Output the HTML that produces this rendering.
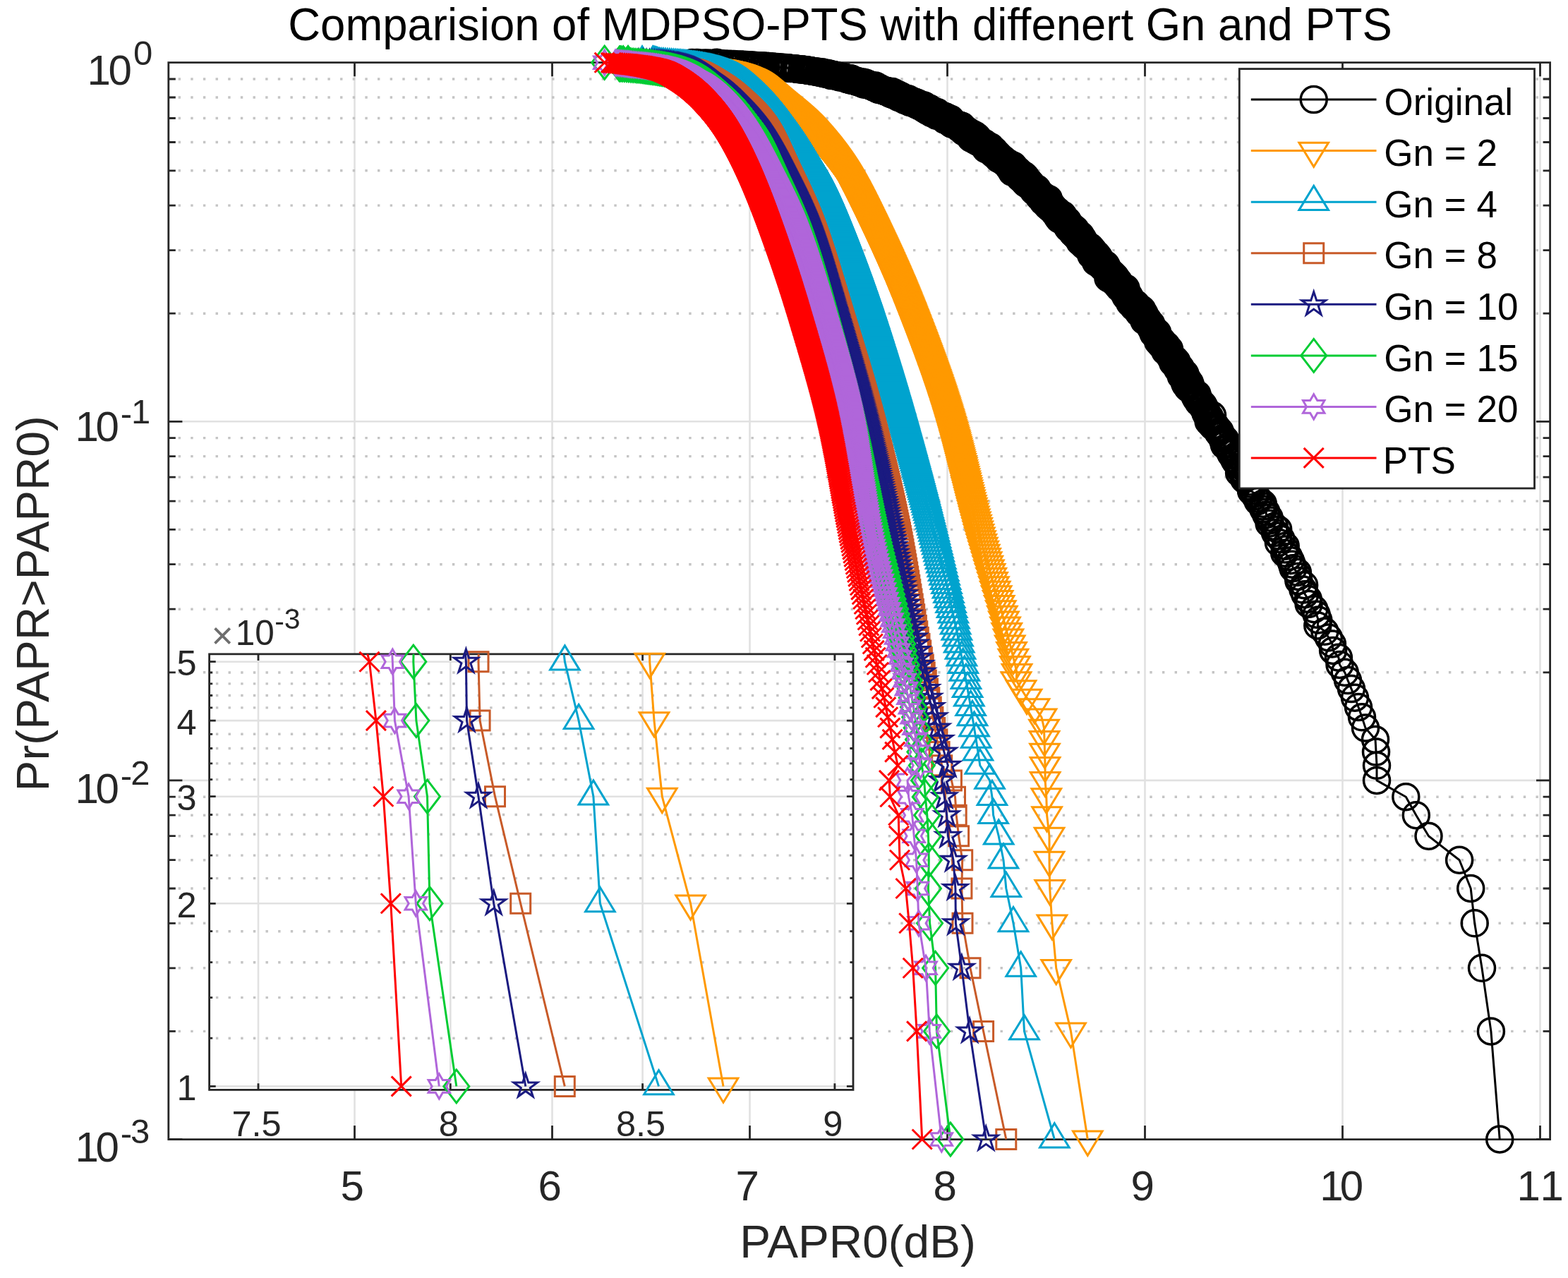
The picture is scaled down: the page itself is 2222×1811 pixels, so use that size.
<!DOCTYPE html><html><head><meta charset="utf-8"><title>Comparision of MDPSO-PTS with diffenert Gn and PTS</title>
<style>html,body{margin:0;padding:0;background:#fff;}svg{display:block;}text{font-family:"Liberation Sans",Arial,sans-serif;}</style></head><body>
<svg xmlns="http://www.w3.org/2000/svg" xmlns:xlink="http://www.w3.org/1999/xlink" width="2222" height="1811" viewBox="0 0 2222 1811">
<rect width="2222" height="1811" fill="#fff"/>
<defs>
<g id="m_black"><circle r="18.5" fill="none" stroke="#000000" stroke-width="3.5"/></g><marker id="k_m_black" markerUnits="userSpaceOnUse" markerWidth="60" markerHeight="60" refX="0" refY="0" overflow="visible" orient="0"><circle r="18.5" fill="none" stroke="#000000" stroke-width="3.5"/></marker>
<g id="m_orange"><path d="M-20.8,-11.4L20.8,-11.4L0,22.8Z" fill="none" stroke="#FF9900" stroke-width="3.0" stroke-linejoin="miter"/></g><marker id="k_m_orange" markerUnits="userSpaceOnUse" markerWidth="60" markerHeight="60" refX="0" refY="0" overflow="visible" orient="0"><path d="M-20.8,-11.4L20.8,-11.4L0,22.8Z" fill="none" stroke="#FF9900" stroke-width="3.0" stroke-linejoin="miter"/></marker>
<g id="m_cyan"><path d="M0,-22.8L20.8,11.4L-20.8,11.4Z" fill="none" stroke="#00A3CE" stroke-width="3.0" stroke-linejoin="miter"/></g><marker id="k_m_cyan" markerUnits="userSpaceOnUse" markerWidth="60" markerHeight="60" refX="0" refY="0" overflow="visible" orient="0"><path d="M0,-22.8L20.8,11.4L-20.8,11.4Z" fill="none" stroke="#00A3CE" stroke-width="3.0" stroke-linejoin="miter"/></marker>
<g id="m_brown"><path d="M-14,-14H14V14H-14Z" fill="none" stroke="#C85A28" stroke-width="3.0" stroke-linejoin="miter"/></g><marker id="k_m_brown" markerUnits="userSpaceOnUse" markerWidth="60" markerHeight="60" refX="0" refY="0" overflow="visible" orient="0"><path d="M-14,-14H14V14H-14Z" fill="none" stroke="#C85A28" stroke-width="3.0" stroke-linejoin="miter"/></marker>
<g id="m_navy"><path d="M0.00,-17.80L4.00,-5.50L16.93,-5.50L6.47,2.10L10.46,14.40L0.00,6.80L-10.46,14.40L-6.47,2.10L-16.93,-5.50L-4.00,-5.50Z" fill="none" stroke="#1A1A80" stroke-width="3.0" stroke-linejoin="miter"/></g><marker id="k_m_navy" markerUnits="userSpaceOnUse" markerWidth="60" markerHeight="60" refX="0" refY="0" overflow="visible" orient="0"><path d="M0.00,-17.80L4.00,-5.50L16.93,-5.50L6.47,2.10L10.46,14.40L0.00,6.80L-10.46,14.40L-6.47,2.10L-16.93,-5.50L-4.00,-5.50Z" fill="none" stroke="#1A1A80" stroke-width="3.0" stroke-linejoin="miter"/></marker>
<g id="m_green"><path d="M0,-23.5L18,0L0,23.5L-18,0Z" fill="none" stroke="#00CC33" stroke-width="3.0" stroke-linejoin="miter"/></g><marker id="k_m_green" markerUnits="userSpaceOnUse" markerWidth="60" markerHeight="60" refX="0" refY="0" overflow="visible" orient="0"><path d="M0,-23.5L18,0L0,23.5L-18,0Z" fill="none" stroke="#00CC33" stroke-width="3.0" stroke-linejoin="miter"/></marker>
<g id="m_purple"><path d="M0.00,-17.60L5.08,-8.80L15.24,-8.80L10.16,0.00L15.24,8.80L5.08,8.80L0.00,17.60L-5.08,8.80L-15.24,8.80L-10.16,0.00L-15.24,-8.80L-5.08,-8.80Z" fill="none" stroke="#B066DA" stroke-width="3.0" stroke-linejoin="miter"/></g><marker id="k_m_purple" markerUnits="userSpaceOnUse" markerWidth="60" markerHeight="60" refX="0" refY="0" overflow="visible" orient="0"><path d="M0.00,-17.60L5.08,-8.80L15.24,-8.80L10.16,0.00L15.24,8.80L5.08,8.80L0.00,17.60L-5.08,8.80L-15.24,8.80L-10.16,0.00L-15.24,-8.80L-5.08,-8.80Z" fill="none" stroke="#B066DA" stroke-width="3.0" stroke-linejoin="miter"/></marker>
<g id="m_red"><path d="M-14,-14L14,14M-14,14L14,-14" fill="none" stroke="#FF0000" stroke-width="3.0" stroke-linejoin="miter"/></g><marker id="k_m_red" markerUnits="userSpaceOnUse" markerWidth="60" markerHeight="60" refX="0" refY="0" overflow="visible" orient="0"><path d="M-14,-14L14,14M-14,14L14,-14" fill="none" stroke="#FF0000" stroke-width="3.0" stroke-linejoin="miter"/></marker>
<clipPath id="clipMain"><rect x="238.8" y="88.6" width="1957.8" height="1526.0"/></clipPath>
<clipPath id="clipIn"><rect x="296.6" y="926.8" width="912.4" height="617.5"/></clipPath>
</defs>
<path d="M502.5,88.6V1614.6M782.5,88.6V1614.6M1062.5,88.6V1614.6M1342.5,88.6V1614.6M1622.5,88.6V1614.6M1902.5,88.6V1614.6M2182.5,88.6V1614.6M238.8,597.3H2196.6M238.8,1105.9H2196.6" stroke="#e1e1e1" stroke-width="2.6" fill="none"/>
<path d="M238.8,444.2H2196.6M238.8,354.6H2196.6M238.8,291.1H2196.6M238.8,241.8H2196.6M238.8,201.5H2196.6M238.8,167.5H2196.6M238.8,138H2196.6M238.8,112H2196.6M238.8,952.8H2196.6M238.8,863.2H2196.6M238.8,799.7H2196.6M238.8,750.4H2196.6M238.8,710.1H2196.6M238.8,676.1H2196.6M238.8,646.6H2196.6M238.8,620.6H2196.6M238.8,1461.4H2196.6M238.8,1371.8H2196.6M238.8,1308.3H2196.6M238.8,1259H2196.6M238.8,1218.7H2196.6M238.8,1184.7H2196.6M238.8,1155.2H2196.6M238.8,1129.2H2196.6" stroke="#c4c4c4" stroke-width="3.4" fill="none" stroke-dasharray="3.4 14.25" stroke-dashoffset="-13.8"/>
<path d="M238.8,88.6H2196.6 V1614.6 H238.8 ZM502.5,1614.6v-19.6M502.5,88.6v19.6M782.5,1614.6v-19.6M782.5,88.6v19.6M1062.5,1614.6v-19.6M1062.5,88.6v19.6M1342.5,1614.6v-19.6M1342.5,88.6v19.6M1622.5,1614.6v-19.6M1622.5,88.6v19.6M1902.5,1614.6v-19.6M1902.5,88.6v19.6M2182.5,1614.6v-19.6M2182.5,88.6v19.6M238.8,88.7h19.6M2196.6,88.7h-19.6M238.8,597.3h19.6M2196.6,597.3h-19.6M238.8,1105.9h19.6M2196.6,1105.9h-19.6M238.8,1614.5h19.6M2196.6,1614.5h-19.6M238.8,444.2h10M2196.6,444.2h-10M238.8,354.6h10M2196.6,354.6h-10M238.8,291.1h10M2196.6,291.1h-10M238.8,241.8h10M2196.6,241.8h-10M238.8,201.5h10M2196.6,201.5h-10M238.8,167.5h10M2196.6,167.5h-10M238.8,138h10M2196.6,138h-10M238.8,112h10M2196.6,112h-10M238.8,952.8h10M2196.6,952.8h-10M238.8,863.2h10M2196.6,863.2h-10M238.8,799.7h10M2196.6,799.7h-10M238.8,750.4h10M2196.6,750.4h-10M238.8,710.1h10M2196.6,710.1h-10M238.8,676.1h10M2196.6,676.1h-10M238.8,646.6h10M2196.6,646.6h-10M238.8,620.6h10M2196.6,620.6h-10M238.8,1461.4h10M2196.6,1461.4h-10M238.8,1371.8h10M2196.6,1371.8h-10M238.8,1308.3h10M2196.6,1308.3h-10M238.8,1259h10M2196.6,1259h-10M238.8,1218.7h10M2196.6,1218.7h-10M238.8,1184.7h10M2196.6,1184.7h-10M238.8,1155.2h10M2196.6,1155.2h-10M238.8,1129.2h10M2196.6,1129.2h-10" stroke="#262626" stroke-width="2.8" fill="none"/>
<path d="M2125.2 1614.5 2112.9 1461.4 2100 1371.8 2089.7 1308.3 2084.2 1259 2068.1 1218.7 2024.5 1184.7 2006.8 1155.2 1992.3 1129.2 1951 1105.9 1951 1084.8 1950 1065.6 1949 1047.9 1935 1031.6 1930 1016.3 1925 1002.1 1920 988.7 1915 976.1 1910 964.1 1905.7 952.8 1898.5 942 1896.9 931.7 1889.1 921.9 1887.9 912.5 1882.8 903.5 1877.4 894.8 1867.3 886.5 1868.2 878.5 1865.6 870.7 1862.3 863.2 1854.6 856 1853.8 849 1849.3 842.2 1846.5 835.6 1848.1 829.2 1840.4 823 1839.5 816.9 1838.9 811 1832.5 805.3 1830.9 799.7 1828.8 794.2 1826.1 788.9 1820.2 783.7 1821 778.6 1821.7 773.7 1811.9 768.8 1815.5 764.1 1811.2 759.4 1807 754.9 1811.2 750.4 1805.8 746 1798.5 741.7 1799.5 737.5 1798.5 733.4 1794.3 729.4 1794.3 725.4 1790.3 721.5 1790 717.6 1789.8 713.8 1782.5 710.1 1782.6 706.5 1778.9 702.9 1778.4 699.4 1773.1 695.9 1772.7 692.5 1771.7 689.1 1772.5 685.8 1771.3 682.5 1763.2 679.3 1762.7 676.1 1764.5 673 1756.1 669.9 1758.1 666.8 1757.3 663.8 1758.9 660.8 1755.8 657.9 1751.5 655 1749.8 652.2 1748.4 649.4 1751.2 646.6 1744.7 643.8 1743.4 641.1 1743.4 638.5 1740.6 635.8 1738.9 633.2 1735 630.6 1736.3 628.1 1733.7 625.5 1736.2 623 1733.4 620.6 1730.3 618.1 1730.5 615.7 1726.6 613.3 1728.6 611 1724.6 608.6 1724.6 606.3 1718.6 604 1721.3 601.8 1714.8 599.5 1712.6 597.3 1715.6 595.1 1712.8 592.9 1714.1 590.8 1718 588.6 1709.1 586.5 1708.3 584.4 1709.1 582.4 1708.6 580.3 1705.6 578.3 1704.3 576.2 1705.4 574.2 1703.7 572.3 1698.6 570.3 1699.8 568.4 1698.9 566.4 1694.9 564.5 1697.1 562.6 1693.1 560.7 1696.5 558.9 1693.4 557 1692 555.2 1689.2 553.4 1689.2 551.6 1683.4 549.8 1684.4 548 1687.1 546.3 1679.7 544.5 1686.1 542.8 1678.5 541.1 1683.7 539.3 1678.6 537.7 1681.6 536 1678.9 534.3 1673.7 532.7 1679.6 531 1679 529.4 1674.2 527.8 1672.7 526.2 1671.9 524.6 1668.9 523 1673 521.4 1667.9 519.8 1668.1 518.3 1665.3 516.8 1664.7 515.2 1662.1 513.7 1667.4 512.2 1662.9 510.7 1664.8 509.2 1661.4 507.7 1658.7 506.3 1658.6 504.8 1657.1 503.4 1657.6 501.9 1655.7 500.5 1654.9 499.1 1651.3 497.7 1651.8 496.3 1657 494.9 1650.2 493.5 1648.4 492.1 1650.9 490.7 1652.7 489.4 1644.6 488 1646.8 486.7 1644.9 485.4 1641.1 484 1646.5 482.7 1643.7 481.4 1643 480.1 1640.1 478.8 1642.2 477.5 1638.9 476.2 1639 475 1635.7 473.7 1634.5 472.4 1640.1 471.2 1634.6 469.9 1635.7 468.7 1634.1 467.5 1632.2 466.2 1631.2 465 1633.2 463.8 1630 462.6 1629.5 461.4 1629.1 460.2 1631.2 459 1629.1 457.9 1627.5 456.7 1624.3 455.5 1621.4 454.4 1626.4 453.2 1625.7 452.1 1622.1 450.9 1623 449.8 1622.8 448.7 1622.1 447.5 1621.5 446.4 1617.2 445.3 1621.4 444.2 1613.7 443.1 1618.1 442 1616.4 440.9 1616.6 439.8 1618.3 438.7 1616.5 437.7 1609.1 436.6 1607 435.5 1612.4 434.5 1607.1 433.4 1608.8 432.4 1610.1 431.3 1603.1 430.3 1601.2 429.3 1606.3 428.2 1605 427.2 1603.5 426.2 1603.4 425.2 1600.4 424.2 1598 423.1 1600.6 422.1 1597.8 421.1 1595.4 420.2 1600 419.2 1597.8 418.2 1598.2 417.2 1593.9 416.2 1594 415.3 1592.4 414.3 1591.9 413.3 1593.8 412.4 1590.6 411.4 1592.7 410.5 1591.9 409.5 1595.4 408.6 1586.1 407.6 1591 406.7 1587.9 405.8 1587.3 404.8 1583 403.9 1584.7 403 1587 402.1 1584.2 401.2 1583.8 400.3 1582.2 399.4 1585 398.5 1581.4 397.6 1575.2 396.7 1578.2 395.8 1574.3 394.9 1570.4 394 1576.5 393.1 1580.4 392.3 1576.5 391.4 1572.7 390.5 1572.5 389.7 1577 388.8 1573.9 388 1572.9 387.1 1571.9 386.2 1571.4 385.4 1572.6 384.6 1571.3 383.7 1569.8 382.9 1565.9 382 1569.1 381.2 1565.4 380.4 1569.1 379.6 1562.5 378.7 1564.7 377.9 1564.3 377.1 1560.3 376.3 1567.3 375.5 1565.9 374.7 1560.4 373.9 1562.8 373.1 1561.1 372.3 1553 371.5 1559.5 370.7 1558 369.9 1557.7 369.1 1554.1 368.3 1555.5 367.5 1555 366.7 1557.8 366 1555 365.2 1553.5 364.4 1556.6 363.7 1550.7 362.9 1550.5 362.1 1546.3 361.4 1554.1 360.6 1551.9 359.9 1551.1 359.1 1549.9 358.3 1547.8 357.6 1547.4 356.9 1545.6 356.1 1545.1 355.4 1545.1 354.6 1548.1 353.9 1545.1 353.2 1542.9 352.4 1540.9 351.7 1540.2 351 1545.1 350.3 1541.8 349.5 1540 348.8 1538.4 348.1 1535.8 347.4 1537.8 346.7 1539.5 346 1535.7 345.3 1535.5 344.6 1534.9 343.9 1535.1 343.2 1530.3 342.5 1533 341.8 1530.9 341.1 1534.6 340.4 1529.9 339.7 1532.6 339 1534.4 338.3 1529.2 337.6 1527.9 337 1529.3 336.3 1528.2 335.6 1525.1 334.9 1528.1 334.3 1531.4 333.6 1525.2 332.9 1524.7 332.2 1522 331.6 1524.8 330.9 1520.3 330.3 1520.1 329.6 1525.5 328.9 1519.4 328.3 1523.8 327.6 1524.3 327 1520.6 326.3 1520.8 325.7 1523.7 325 1517.7 324.4 1516.2 323.8 1513.7 323.1 1516.6 322.5 1519.7 321.9 1517.8 321.2 1512.5 320.6 1512.1 320 1512.5 319.3 1513.9 318.7 1512.1 318.1 1512.6 317.5 1512.2 316.8 1510.2 316.2 1510.3 315.6 1510.4 315 1509.1 314.4 1510 313.8 1512.9 313.1 1509.1 312.5 1507.3 311.9 1502.4 311.3 1507 310.7 1500.6 310.1 1501.4 309.5 1506.5 308.9 1505.6 308.3 1503 307.7 1498.5 307.1 1501.3 306.5 1500 305.9 1502.8 305.3 1506.3 304.8 1500.7 304.2 1497.7 303.6 1496.1 303 1498.4 302.4 1497.6 301.8 1494.6 301.3 1497.3 300.7 1493.6 300.1 1498.7 299.5 1498.1 299 1497.6 298.4 1493.2 297.8 1495.1 297.3 1493 296.7 1491.8 296.1 1491.4 295.6 1488.5 295 1487.6 294.4 1492.7 293.9 1489.7 293.3 1490.2 292.8 1491.7 292.2 1484.3 291.6 1486.2 291.1 1488.1 290.5 1488.1 290 1485.7 289.4 1488.7 288.9 1486.1 288.3 1482.1 287.8 1482.3 287.3 1486.1 286.7 1484.7 286.2 1478.3 285.6 1485.9 285.1 1483.6 284.6 1484.9 284 1480.1 283.5 1479.8 283 1477.3 282.4 1485.9 281.9 1478.6 281.4 1482.5 280.8 1476.4 280.3 1478 279.8 1472.9 279.3 1475.6 278.7 1478.5 278.2 1472.5 277.7 1477.8 277.2 1475.4 276.7 1471.5 276.1 1472.3 275.6 1472 275.1 1472.5 274.6 1470.8 274.1 1469.6 273.6 1470.4 273.1 1468.1 272.6 1466.9 272.1 1469.5 271.6 1471.4 271 1464.9 270.5 1468.2 270 1466.1 269.5 1464.8 269 1468.9 268.5 1464.9 268 1469.5 267.5 1463.3 267 1465.7 266.6 1463.7 266.1 1461.9 265.6 1464.8 265.1 1462.4 264.6 1463.8 264.1 1461.7 263.6 1458.6 263.1 1460.6 262.6 1460.5 262.2 1462.3 261.7 1457.2 261.2 1458.8 260.7 1454.1 260.2 1459.6 259.7 1454.8 259.3 1452.5 258.8 1456.4 258.3 1458.8 257.8 1451.7 257.4 1452.3 256.9 1452.7 256.4 1451.3 255.9 1454.6 255.5 1451.1 255 1450.8 254.5 1453.6 254.1 1449.8 253.6 1452.3 253.1 1448.3 252.7 1447.2 252.2 1445.2 251.7 1453.9 251.3 1448 250.8 1448.9 250.4 1447.8 249.9 1447.8 249.4 1447 249 1451.2 248.5 1443.3 248.1 1441.5 247.6 1442.4 247.2 1441.1 246.7 1445.8 246.3 1445.5 245.8 1440.6 245.4 1439.1 244.9 1441.2 244.5 1445 244 1434 243.6 1441.9 243.1 1437.4 242.7 1442.2 242.2 1436.5 241.8 1438 241.4 1434.4 240.9 1435.3 240.5 1440.7 240 1438.8 239.6 1435.3 239.2 1433.6 238.7 1430.6 238.3 1433.8 237.9 1434.3 237.4 1433.6 237 1433.1 236.6 1430.1 236.1 1432.2 235.7 1431.8 235.3 1434.7 234.8 1435.6 234.4 1430.1 234 1428.1 233.6 1429.4 233.1 1427.5 232.7 1426.7 232.3 1427.9 231.9 1425 231.4 1428.6 231 1426.4 230.6 1426.8 230.2 1425.2 229.8 1423.4 229.4 1422.3 228.9 1423.6 228.5 1422.4 228.1 1423.8 227.7 1422.8 227.3 1418.9 226.9 1422 226.4 1418 226 1419.3 225.6 1419.6 225.2 1414.7 224.8 1419.6 224.4 1419.3 224 1418 223.6 1416.9 223.2 1416.5 222.8 1414.5 222.4 1415.8 222 1414.6 221.6 1415.7 221.2 1412 220.8 1415.1 220.4 1414.4 219.9 1413.2 219.5 1412 219.2 1414 218.8 1408 218.4 1412.8 218 1411.8 217.6 1411.4 217.2 1411.1 216.8 1408.1 216.4 1408.6 216 1410.3 215.6 1409.3 215.2 1408.3 214.8 1403.5 214.4 1408.1 214 1409.2 213.6 1408.3 213.2 1405.9 212.9 1400.9 212.5 1406.7 212.1 1403.5 211.7 1397 211.3 1403.8 210.9 1398.7 210.5 1398.7 210.2 1399.8 209.8 1404.1 209.4 1399.5 209 1400.6 208.6 1403.8 208.3 1403 207.9 1398.2 207.5 1397.4 207.1 1394.4 206.7 1395.3 206.4 1397.6 206 1397 205.6 1395.8 205.2 1397.6 204.9 1392.6 204.5 1393.9 204.1 1395.4 203.8 1394.6 203.4 1395.3 203 1393.1 202.6 1390.8 202.3 1392 201.9 1388.1 201.5 1386 201.2 1391.1 200.8 1389 200.4 1389.4 200.1 1383.9 199.7 1386.8 199.3 1385.7 199 1384.5 198.6 1380.5 198.2 1384.8 197.9 1387.4 197.5 1385.6 197.2 1382.7 196.8 1383.7 196.4 1385.1 196.1 1375.8 195.7 1381.9 195.4 1383.1 195 1382.9 194.6 1385 194.3 1383 193.9 1380.5 193.6 1380 193.2 1380.7 192.9 1376.9 192.5 1377.6 192.2 1379.5 191.8 1381.6 191.5 1375.8 191.1 1375.6 190.8 1375.7 190.4 1378 190.1 1374.1 189.7 1377.3 189.4 1370.7 189 1372.2 188.7 1371.7 188.3 1373.6 188 1373.8 187.6 1366.9 187.3 1367.8 186.9 1370.5 186.6 1367.5 186.2 1364.8 185.9 1370.7 185.6 1368.8 185.2 1368.3 184.9 1365.4 184.5 1368.6 184.2 1364.9 183.9 1367.8 183.5 1362.2 183.2 1361.9 182.8 1364 182.5 1361.2 182.2 1364.1 181.8 1362.6 181.5 1359.1 181.2 1361.1 180.8 1359.5 180.5 1362.1 180.1 1357.7 179.8 1357.7 179.5 1361.3 179.1 1363.3 178.8 1362.2 178.5 1356.9 178.1 1356.7 177.8 1359.5 177.5 1354.8 177.2 1352.1 176.8 1354.3 176.5 1354.6 176.2 1350.9 175.8 1348.3 175.5 1348.3 175.2 1353 174.9 1348.9 174.5 1349.9 174.2 1350.3 173.9 1350.7 173.6 1347.8 173.2 1349.4 172.9 1345.3 172.6 1346.1 172.3 1343.9 171.9 1348.8 171.6 1345.3 171.3 1343 171 1343.4 170.7 1343.2 170.3 1344.9 170 1338.6 169.7 1339.5 169.4 1340.6 169.1 1347.3 168.7 1342.8 168.4 1339.6 168.1 1341.1 167.8 1343.9 167.5 1337.6 167.2 1336.7 166.9 1340.1 166.5 1337.7 166.2 1337.6 165.9 1334.1 165.6 1339.6 165.3 1338.5 165 1335.1 164.7 1334.8 164.4 1327.4 164 1333.5 163.7 1330.9 163.4 1331.9 163.1 1331.9 162.8 1328.8 162.5 1324.8 162.2 1329.4 161.9 1326 161.6 1326.5 161.3 1325.2 161 1325.3 160.6 1319.8 160.3 1328 160 1325 159.7 1326.6 159.4 1328.2 159.1 1322.7 158.8 1317.6 158.5 1319.2 158.2 1317.9 157.9 1319 157.6 1319.9 157.3 1314.1 157 1319.4 156.7 1314.1 156.4 1318.1 156.1 1316.5 155.8 1315.4 155.5 1315.4 155.2 1313.6 154.9 1312.8 154.6 1309.5 154.3 1313.1 154 1317.1 153.7 1316.9 153.4 1314.6 153.1 1312.5 152.8 1308.4 152.5 1313.1 152.2 1308.8 151.9 1308.1 151.7 1307 151.4 1307.3 151.1 1305.4 150.8 1305.6 150.5 1302.5 150.2 1303.7 149.9 1309.7 149.6 1303.2 149.3 1302.2 149 1303.5 148.7 1303.3 148.4 1298.1 148.2 1299.8 147.9 1302 147.6 1299.7 147.3 1298.7 147 1301.7 146.7 1295.5 146.4 1296.8 146.1 1294.6 145.9 1299 145.6 1289.8 145.3 1292.4 145 1292.1 144.7 1294.5 144.4 1293.7 144.1 1295 143.9 1287 143.6 1292.2 143.3 1288.9 143 1287.4 142.7 1289.7 142.5 1285.4 142.2 1281.9 141.9 1285.6 141.6 1282.1 141.3 1283.6 141 1285.5 140.8 1284.7 140.5 1287.3 140.2 1282.2 139.9 1278.2 139.7 1279.5 139.4 1278.4 139.1 1277 138.8 1280.5 138.5 1277.2 138.3 1273.2 138 1279.3 137.7 1276.6 137.4 1277.1 137.2 1275.8 136.9 1276.5 136.6 1274.4 136.3 1276.7 136.1 1274 135.8 1273.3 135.5 1272.7 135.2 1267.4 135 1269.9 134.7 1269 134.4 1269.5 134.2 1264.9 133.9 1271.7 133.6 1267.2 133.3 1263.3 133.1 1261.4 132.8 1264.3 132.5 1264.1 132.3 1261.8 132 1263.1 131.7 1260.6 131.5 1262.9 131.2 1259 130.9 1260.1 130.7 1261.9 130.4 1265.2 130.1 1255.5 129.9 1256.2 129.6 1254.6 129.3 1257.9 129.1 1252.4 128.8 1253.3 128.5 1253.8 128.3 1250.7 128 1250 127.7 1250.5 127.5 1245.7 127.2 1246.6 126.9 1248.5 126.7 1249.2 126.4 1247.6 126.2 1242.9 125.9 1245.4 125.6 1247.8 125.4 1246.5 125.1 1244.2 124.9 1241.4 124.6 1244.4 124.3 1240.7 124.1 1238.4 123.8 1238.6 123.6 1243.5 123.3 1239.6 123 1241.2 122.8 1236.4 122.5 1239.1 122.3 1234.5 122 1234.8 121.8 1240.7 121.5 1235.6 121.2 1231.6 121 1231.9 120.7 1232.1 120.5 1233.5 120.2 1228.5 120 1224.6 119.7 1227.4 119.5 1227.3 119.2 1226.8 119 1229 118.7 1225.7 118.4 1226.1 118.2 1220.5 117.9 1224.6 117.7 1226.8 117.4 1222.7 117.2 1220.5 116.9 1219.4 116.7 1222.7 116.4 1215 116.2 1216.2 115.9 1216.8 115.7 1216.7 115.4 1212.8 115.2 1213.8 114.9 1211.5 114.7 1211.6 114.4 1210.1 114.2 1206.7 113.9 1208.6 113.7 1210 113.4 1204.5 113.2 1205.4 113 1206.7 112.7 1201.5 112.5 1203.7 112.2 1199.7 112 1204.3 111.7 1206.3 111.5 1204.6 111.2 1198.1 111 1199.6 110.7 1197.1 110.5 1196.1 110.3 1198.8 110 1190.7 109.8 1195.7 109.5 1192 109.3 1194.6 109 1190.6 108.8 1187.5 108.6 1188.9 108.3 1189.1 108.1 1186.4 107.8 1186.5 107.6 1183 107.4 1178 107.1 1184.5 106.9 1183 106.6 1180.6 106.4 1179.4 106.2 1180.8 105.9 1176 105.7 1174.3 105.4 1174.5 105.2 1176.9 105 1169.4 104.7 1174.7 104.5 1169 104.3 1166.7 104 1171.5 103.8 1166.9 103.5 1162.7 103.3 1163.9 103.1 1165.9 102.8 1165.3 102.6 1160 102.4 1160.8 102.1 1160.3 101.9 1155.5 101.7 1156.7 101.4 1154.3 101.2 1151.6 101 1150.3 100.7 1150.2 100.5 1148.5 100.3 1145.5 100 1145 99.8 1144.5 99.6 1142.1 99.3 1140.8 99.1 1139.2 98.9 1136.9 98.6 1136.3 98.4 1132 98.2 1131.2 97.9 1128.3 97.7 1127.8 97.5 1125.5 97.3 1120.6 97 1119.1 96.8 1117.9 96.6 1115.7 96.3 1113.2 96.1 1110.1 95.9 1107.9 95.7 1105.5 95.4 1102.3 95.2 1100.5 95 1095.3 94.7 1094.7 94.5 1090.7 94.3 1089.3 94.1 1085.5 93.8 1081.9 93.6 1079.6 93.4 1075.2 93.2 1071.7 92.9 1067.6 92.7 1065 92.5 1061.5 92.3 1057.8 92 1052.8 91.8 1049.5 91.6 1044.4 91.4 1040.1 91.1 1036.4 90.9 1032.5 90.7 1026.9 90.5 1021.9 90.3 1016.4 90 1010.4 89.8 1002.8 89.6 996.8 89.4 987.7 89.1 980.9 88.9 1015.9 88.7" stroke="#000000" stroke-width="3.0" fill="none" stroke-linejoin="round" marker-start="url(#k_m_black)" marker-mid="url(#k_m_black)" marker-end="url(#k_m_black)"/>
<path d="M1541.3 1614.5 1517.5 1461.4 1496.7 1371.8 1490.9 1308.3 1487.7 1259 1487 1218.7 1487 1184.7 1483.6 1155.2 1482.8 1129.2 1481.1 1105.9 1481 1084.8 1480.5 1065.6 1480 1047.9 1479.5 1031.6 1476 1016.3 1466 1002.1 1455 988.7 1447 976.1 1440 964.1 1441 952.8 1438.4 942 1435.9 931.7 1433.5 921.9 1431.2 912.5 1428.9 903.5 1426.7 894.8 1424.5 886.5 1422.4 878.5 1420.3 870.7 1418.2 863.2 1416.1 856 1414.1 849 1412.1 842.2 1410.2 835.6 1408.4 829.2 1406.5 823 1404.7 816.9 1403 811 1401.3 805.3 1399.7 799.7 1398.1 794.2 1396.6 788.9 1395.1 783.7 1393.6 778.6 1392.2 773.7 1390.8 768.8 1389.5 764.1 1388.2 759.4 1386.9 754.9 1385.7 750.4 1384.6 746 1383.4 741.7 1382.3 737.5 1381.2 733.4 1380.2 729.4 1379.2 725.4 1378.2 721.5 1377.2 717.6 1376.3 713.8 1375.3 710.1 1374.4 706.5 1373.5 702.9 1372.7 699.4 1371.8 695.9 1370.9 692.5 1370.1 689.1 1369.3 685.8 1368.5 682.5 1367.7 679.3 1366.9 676.1 1366.1 673 1365.3 669.9 1364.6 666.8 1363.8 663.8 1363.1 660.8 1362.4 657.9 1361.6 655 1360.9 652.2 1360.2 649.4 1359.5 646.6 1358.8 643.8 1358.1 641.1 1357.4 638.5 1356.7 635.8 1356 633.2 1355.3 630.6 1354.6 628.1 1353.9 625.5 1353.2 623 1352.6 620.6 1351.9 618.1 1351.2 615.7 1350.5 613.3 1349.9 611 1349.2 608.6 1348.5 606.3 1347.9 604 1347.2 601.8 1346.5 599.5 1345.9 597.3 1345.2 595.1 1344.6 592.9 1343.9 590.8 1343.2 588.6 1342.6 586.5 1341.9 584.4 1341.3 582.4 1340.6 580.3 1340 578.3 1339.4 576.2 1338.7 574.2 1338.1 572.3 1337.4 570.3 1336.8 568.4 1336.2 566.4 1335.5 564.5 1334.9 562.6 1334.3 560.7 1333.7 558.9 1333 557 1332.4 555.2 1331.8 553.4 1331.2 551.6 1330.6 549.8 1330 548 1329.4 546.3 1328.8 544.5 1328.2 542.8 1327.6 541.1 1327 539.3 1326.4 537.7 1325.8 536 1325.2 534.3 1324.6 532.7 1324 531 1323.4 529.4 1322.8 527.8 1322.3 526.2 1321.7 524.6 1321.1 523 1320.5 521.4 1320 519.8 1319.4 518.3 1318.9 516.8 1318.3 515.2 1317.7 513.7 1317.2 512.2 1316.6 510.7 1316.1 509.2 1315.5 507.7 1315 506.3 1314.4 504.8 1313.9 503.4 1313.4 501.9 1312.8 500.5 1312.3 499.1 1311.8 497.7 1311.2 496.3 1310.7 494.9 1310.2 493.5 1309.7 492.1 1309.1 490.7 1308.6 489.4 1308.1 488 1307.6 486.7 1307.1 485.4 1306.6 484 1306.1 482.7 1305.6 481.4 1305.1 480.1 1304.6 478.8 1304.1 477.5 1303.6 476.2 1303.1 475 1302.6 473.7 1302.1 472.4 1301.6 471.2 1301.2 469.9 1300.7 468.7 1300.2 467.5 1299.7 466.2 1299.3 465 1298.8 463.8 1298.3 462.6 1297.9 461.4 1297.4 460.2 1296.9 459 1296.5 457.9 1296 456.7 1295.6 455.5 1295.1 454.4 1294.7 453.2 1294.2 452.1 1293.8 450.9 1293.3 449.8 1292.9 448.7 1292.4 447.5 1292 446.4 1291.6 445.3 1291.1 444.2 1290.7 443.1 1290.3 442 1289.8 440.9 1289.4 439.8 1289 438.7 1288.5 437.7 1288.1 436.6 1287.7 435.5 1287.3 434.5 1286.8 433.4 1286.4 432.4 1286 431.3 1285.6 430.3 1285.1 429.3 1284.7 428.2 1284.3 427.2 1283.9 426.2 1283.5 425.2 1283.1 424.2 1282.6 423.1 1282.2 422.1 1281.8 421.1 1281.4 420.2 1281 419.2 1280.6 418.2 1280.2 417.2 1279.8 416.2 1279.4 415.3 1279 414.3 1278.6 413.3 1278.2 412.4 1277.8 411.4 1277.4 410.5 1277 409.5 1276.6 408.6 1276.2 407.6 1275.8 406.7 1275.4 405.8 1275 404.8 1274.6 403.9 1274.2 403 1273.8 402.1 1273.4 401.2 1273 400.3 1272.6 399.4 1272.2 398.5 1271.8 397.6 1271.5 396.7 1271.1 395.8 1270.7 394.9 1270.3 394 1269.9 393.1 1269.5 392.3 1269.2 391.4 1268.8 390.5 1268.4 389.7 1268 388.8 1267.6 388 1267.3 387.1 1266.9 386.2 1266.5 385.4 1266.1 384.6 1265.8 383.7 1265.4 382.9 1265 382 1264.6 381.2 1264.3 380.4 1263.9 379.6 1263.5 378.7 1263.2 377.9 1262.8 377.1 1262.4 376.3 1262.1 375.5 1261.7 374.7 1261.4 373.9 1261 373.1 1260.6 372.3 1260.3 371.5 1259.9 370.7 1259.6 369.9 1259.2 369.1 1258.8 368.3 1258.5 367.5 1258.1 366.7 1257.8 366 1257.4 365.2 1257.1 364.4 1256.7 363.7 1256.4 362.9 1256 362.1 1255.7 361.4 1255.3 360.6 1255 359.9 1254.6 359.1 1254.3 358.3 1253.9 357.6 1253.6 356.9 1253.2 356.1 1252.9 355.4 1252.6 354.6 1252.2 353.9 1251.9 353.2 1251.5 352.4 1251.2 351.7 1250.9 351 1250.5 350.3 1250.2 349.5 1249.9 348.8 1249.5 348.1 1249.2 347.4 1248.9 346.7 1248.5 346 1248.2 345.3 1247.9 344.6 1247.5 343.9 1247.2 343.2 1246.9 342.5 1246.5 341.8 1246.2 341.1 1245.9 340.4 1245.6 339.7 1245.2 339 1244.9 338.3 1244.6 337.6 1244.3 337 1244 336.3 1243.6 335.6 1243.3 334.9 1243 334.3 1242.7 333.6 1242.4 332.9 1242 332.2 1241.7 331.6 1241.4 330.9 1241.1 330.3 1240.8 329.6 1240.5 328.9 1240.2 328.3 1239.8 327.6 1239.5 327 1239.2 326.3 1238.9 325.7 1238.6 325 1238.3 324.4 1238 323.8 1237.7 323.1 1237.4 322.5 1237.1 321.9 1236.8 321.2 1236.5 320.6 1236.2 320 1235.9 319.3 1235.6 318.7 1235.3 318.1 1235 317.5 1234.7 316.8 1234.4 316.2 1234.1 315.6 1233.8 315 1233.5 314.4 1233.2 313.8 1232.9 313.1 1232.6 312.5 1232.3 311.9 1232 311.3 1231.7 310.7 1231.4 310.1 1231.1 309.5 1230.8 308.9 1230.5 308.3 1230.2 307.7 1230 307.1 1229.7 306.5 1229.4 305.9 1229.1 305.3 1228.8 304.8 1228.5 304.2 1228.2 303.6 1228 303 1227.7 302.4 1227.4 301.8 1227.1 301.3 1226.8 300.7 1226.5 300.1 1226.3 299.5 1226 299 1225.7 298.4 1225.4 297.8 1225.1 297.3 1224.8 296.7 1224.6 296.1 1224.3 295.6 1224 295 1223.7 294.4 1223.5 293.9 1223.2 293.3 1222.9 292.8 1222.6 292.2 1222.3 291.6 1222.1 291.1 1221.8 290.5 1221.5 290 1221.2 289.4 1221 288.9 1220.7 288.3 1220.4 287.8 1220.1 287.3 1219.9 286.7 1219.6 286.2 1219.3 285.6 1219.1 285.1 1218.8 284.6 1218.5 284 1218.2 283.5 1218 283 1217.7 282.4 1217.4 281.9 1217.1 281.4 1216.9 280.8 1216.6 280.3 1216.3 279.8 1216.1 279.3 1215.8 278.7 1215.5 278.2 1215.3 277.7 1215 277.2 1214.7 276.7 1214.4 276.1 1214.2 275.6 1213.9 275.1 1213.6 274.6 1213.4 274.1 1213.1 273.6 1212.8 273.1 1212.6 272.6 1212.3 272.1 1212 271.6 1211.7 271 1211.5 270.5 1211.2 270 1210.9 269.5 1210.7 269 1210.4 268.5 1210.1 268 1209.9 267.5 1209.6 267 1209.3 266.6 1209.1 266.1 1208.8 265.6 1208.5 265.1 1208.3 264.6 1208 264.1 1207.7 263.6 1207.5 263.1 1207.2 262.6 1206.9 262.2 1206.6 261.7 1206.4 261.2 1206.1 260.7 1205.8 260.2 1205.6 259.7 1205.3 259.3 1205 258.8 1204.8 258.3 1204.5 257.8 1204.2 257.4 1204 256.9 1203.7 256.4 1203.4 255.9 1203.1 255.5 1202.9 255 1202.6 254.5 1202.3 254.1 1202.1 253.6 1201.8 253.1 1201.5 252.7 1201.3 252.2 1201 251.7 1200.7 251.3 1200.4 250.8 1200.2 250.4 1199.9 249.9 1199.6 249.4 1199.4 249 1199.1 248.5 1198.8 248.1 1198.5 247.6 1198.3 247.2 1198 246.7 1197.7 246.3 1197.4 245.8 1197.2 245.4 1196.9 244.9 1196.6 244.5 1196.3 244 1196.1 243.6 1195.8 243.1 1195.5 242.7 1195.2 242.2 1195 241.8 1194.7 241.4 1194.4 240.9 1194.1 240.5 1193.9 240 1193.6 239.6 1193.3 239.2 1193 238.7 1192.7 238.3 1192.5 237.9 1192.2 237.4 1191.9 237 1191.6 236.6 1191.3 236.1 1191.1 235.7 1190.8 235.3 1190.5 234.8 1190.2 234.4 1189.9 234 1189.6 233.6 1189.4 233.1 1189.1 232.7 1188.8 232.3 1188.5 231.9 1188.2 231.4 1187.9 231 1187.6 230.6 1187.4 230.2 1187.1 229.8 1186.8 229.4 1186.5 228.9 1186.2 228.5 1185.9 228.1 1185.6 227.7 1185.4 227.3 1185.1 226.9 1184.8 226.4 1184.5 226 1184.2 225.6 1183.9 225.2 1183.6 224.8 1183.3 224.4 1183 224 1182.8 223.6 1182.5 223.2 1182.2 222.8 1181.9 222.4 1181.6 222 1181.3 221.6 1181 221.2 1180.7 220.8 1180.4 220.4 1180.1 219.9 1179.8 219.5 1179.5 219.2 1179.2 218.8 1179 218.4 1178.7 218 1178.4 217.6 1178.1 217.2 1177.8 216.8 1177.5 216.4 1177.2 216 1176.9 215.6 1176.6 215.2 1176.3 214.8 1176 214.4 1175.7 214 1175.4 213.6 1175.1 213.2 1174.8 212.9 1174.5 212.5 1174.2 212.1 1173.9 211.7 1173.6 211.3 1173.3 210.9 1173 210.5 1172.7 210.2 1172.4 209.8 1172.1 209.4 1171.9 209 1171.6 208.6 1171.3 208.3 1171 207.9 1170.7 207.5 1170.4 207.1 1170.1 206.7 1169.8 206.4 1169.5 206 1169.2 205.6 1168.9 205.2 1168.6 204.9 1168.3 204.5 1168 204.1 1167.7 203.8 1167.4 203.4 1167.1 203 1166.8 202.6 1166.5 202.3 1166.2 201.9 1165.8 201.5 1165.5 201.2 1165.2 200.8 1164.9 200.4 1164.6 200.1 1164.3 199.7 1164 199.3 1163.7 199 1163.4 198.6 1163.1 198.2 1162.8 197.9 1162.5 197.5 1162.2 197.2 1161.9 196.8 1161.6 196.4 1161.3 196.1 1161 195.7 1160.7 195.4 1160.4 195 1160.1 194.6 1159.8 194.3 1159.5 193.9 1159.2 193.6 1158.9 193.2 1158.6 192.9 1158.3 192.5 1158 192.2 1157.7 191.8 1157.4 191.5 1157.1 191.1 1156.8 190.8 1156.5 190.4 1156.2 190.1 1155.8 189.7 1155.5 189.4 1155.2 189 1154.9 188.7 1154.6 188.3 1154.3 188 1154 187.6 1153.7 187.3 1153.4 186.9 1153.1 186.6 1152.8 186.2 1152.5 185.9 1152.2 185.6 1151.9 185.2 1151.6 184.9 1151.3 184.5 1151 184.2 1150.7 183.9 1150.4 183.5 1150.1 183.2 1149.8 182.8 1149.5 182.5 1149.1 182.2 1148.8 181.8 1148.5 181.5 1148.2 181.2 1147.9 180.8 1147.6 180.5 1147.3 180.1 1147 179.8 1146.7 179.5 1146.3 179.1 1146 178.8 1145.7 178.5 1145.4 178.1 1145.1 177.8 1144.7 177.5 1144.4 177.2 1144.1 176.8 1143.8 176.5 1143.5 176.2 1143.1 175.8 1142.8 175.5 1142.5 175.2 1142.2 174.9 1141.8 174.5 1141.5 174.2 1141.2 173.9 1140.8 173.6 1140.5 173.2 1140.2 172.9 1139.9 172.6 1139.5 172.3 1139.2 171.9 1138.9 171.6 1138.5 171.3 1138.2 171 1137.9 170.7 1137.5 170.3 1137.2 170 1136.8 169.7 1136.5 169.4 1136.2 169.1 1135.8 168.7 1135.5 168.4 1135.1 168.1 1134.8 167.8 1134.5 167.5 1134.1 167.2 1133.8 166.9 1133.4 166.5 1133.1 166.2 1132.7 165.9 1132.4 165.6 1132.1 165.3 1131.7 165 1131.4 164.7 1131 164.4 1130.7 164 1130.3 163.7 1130 163.4 1129.6 163.1 1129.3 162.8 1128.9 162.5 1128.6 162.2 1128.2 161.9 1127.9 161.6 1127.5 161.3 1127.2 161 1126.8 160.6 1126.5 160.3 1126.1 160 1125.7 159.7 1125.4 159.4 1125 159.1 1124.7 158.8 1124.3 158.5 1124 158.2 1123.6 157.9 1123.3 157.6 1122.9 157.3 1122.6 157 1122.2 156.7 1121.8 156.4 1121.5 156.1 1121.1 155.8 1120.8 155.5 1120.4 155.2 1120.1 154.9 1119.7 154.6 1119.3 154.3 1119 154 1118.6 153.7 1118.3 153.4 1117.9 153.1 1117.6 152.8 1117.2 152.5 1116.8 152.2 1116.5 151.9 1116.1 151.7 1115.8 151.4 1115.4 151.1 1115 150.8 1114.7 150.5 1114.3 150.2 1114 149.9 1113.6 149.6 1113.3 149.3 1112.9 149 1112.6 148.7 1112.2 148.4 1111.8 148.2 1111.5 147.9 1111.1 147.6 1110.8 147.3 1110.4 147 1110.1 146.7 1109.7 146.4 1109.4 146.1 1109 145.9 1108.7 145.6 1108.3 145.3 1108 145 1107.6 144.7 1107.3 144.4 1106.9 144.1 1106.6 143.9 1106.2 143.6 1105.9 143.3 1105.5 143 1105.2 142.7 1104.8 142.5 1104.5 142.2 1104.2 141.9 1103.8 141.6 1103.5 141.3 1103.1 141 1102.8 140.8 1102.5 140.5 1102.1 140.2 1101.8 139.9 1101.5 139.7 1101.1 139.4 1100.8 139.1 1100.5 138.8 1100.2 138.5 1099.8 138.3 1099.5 138 1099.2 137.7 1098.9 137.4 1098.5 137.2 1098.2 136.9 1097.9 136.6 1097.6 136.3 1097.3 136.1 1096.9 135.8 1096.6 135.5 1096.3 135.2 1096 135 1095.7 134.7 1095.4 134.4 1095.1 134.2 1094.7 133.9 1094.4 133.6 1094.1 133.3 1093.8 133.1 1093.5 132.8 1093.2 132.5 1092.9 132.3 1092.6 132 1092.3 131.7 1091.9 131.5 1091.6 131.2 1091.3 130.9 1091 130.7 1090.7 130.4 1090.4 130.1 1090.1 129.9 1089.8 129.6 1089.5 129.3 1089.2 129.1 1088.9 128.8 1088.5 128.5 1088.2 128.3 1087.9 128 1087.6 127.7 1087.3 127.5 1087 127.2 1086.7 126.9 1086.4 126.7 1086.1 126.4 1085.8 126.2 1085.5 125.9 1085.1 125.6 1084.8 125.4 1084.5 125.1 1084.2 124.9 1083.9 124.6 1083.6 124.3 1083.3 124.1 1083 123.8 1082.6 123.6 1082.3 123.3 1082 123 1081.7 122.8 1081.4 122.5 1081 122.3 1080.7 122 1080.4 121.8 1080.1 121.5 1079.7 121.2 1079.4 121 1079.1 120.7 1078.7 120.5 1078.4 120.2 1078.1 120 1077.7 119.7 1077.4 119.5 1077 119.2 1076.7 119 1076.4 118.7 1076 118.4 1075.7 118.2 1075.3 117.9 1074.9 117.7 1074.6 117.4 1074.2 117.2 1073.8 116.9 1073.5 116.7 1073.1 116.4 1072.7 116.2 1072.3 115.9 1071.9 115.7 1071.6 115.4 1071.2 115.2 1070.8 114.9 1070.3 114.7 1069.9 114.4 1069.5 114.2 1069.1 113.9 1068.7 113.7 1068.2 113.4 1067.8 113.2 1067.4 113 1066.9 112.7 1066.4 112.5 1066 112.2 1065.5 112 1065 111.7 1064.5 111.5 1064 111.2 1063.5 111 1063 110.7 1062.5 110.5 1062 110.3 1061.5 110 1061 109.8 1060.5 109.5 1059.9 109.3 1059.4 109 1058.9 108.8 1058.3 108.6 1057.7 108.3 1057.2 108.1 1056.6 107.8 1056 107.6 1055.5 107.4 1054.9 107.1 1054.3 106.9 1053.7 106.6 1053 106.4 1052.4 106.2 1051.8 105.9 1051.2 105.7 1050.5 105.4 1049.9 105.2 1049.2 105 1048.5 104.7 1047.8 104.5 1047.1 104.3 1046.4 104 1045.7 103.8 1045 103.5 1044.3 103.3 1043.5 103.1 1042.8 102.8 1042 102.6 1041.2 102.4 1040.4 102.1 1039.6 101.9 1038.8 101.7 1037.9 101.4 1037.1 101.2 1036.2 101 1035.3 100.7 1034.4 100.5 1033.5 100.3 1032.5 100 1031.6 99.8 1030.6 99.6 1029.6 99.3 1028.5 99.1 1027.4 98.9 1026.3 98.6 1025.2 98.4 1024 98.2 1022.8 97.9 1021.6 97.7 1020.3 97.5 1019 97.3 1017.7 97 1016.3 96.8 1014.9 96.6 1013.5 96.3 1012 96.1 1010.5 95.9 1009 95.7 1007.5 95.4 1005.9 95.2 1004.3 95 1002.7 94.7 1001 94.5 999.3 94.3 997.6 94.1 995.9 93.8 994.1 93.6 992.2 93.4 990.2 93.2 988.2 92.9 986 92.7 983.8 92.5 981.6 92.3 979.2 92 976.7 91.8 974.2 91.6 971.6 91.4 968.9 91.1 966.2 90.9 963.3 90.7 960.1 90.5 956.7 90.3 952.9 90 948.6 89.8 943.9 89.6 938.4 89.4 932.1 89.1 925 88.9 910 88.7" stroke="#FF9900" stroke-width="3.0" fill="none" stroke-linejoin="round" marker-start="url(#k_m_orange)" marker-mid="url(#k_m_orange)" marker-end="url(#k_m_orange)"/>
<path d="M1494.3 1614.5 1451.5 1461.4 1446.7 1371.8 1436 1308.3 1425.8 1259 1422 1218.7 1415.2 1184.7 1407.6 1155.2 1405.9 1129.2 1402.5 1105.9 1388.8 1084.8 1385.9 1065.6 1383.2 1047.9 1380.5 1031.6 1378 1016.3 1375.6 1002.1 1373.3 988.7 1371.1 976.1 1368.9 964.1 1366.8 952.8 1364.8 942 1362.9 931.7 1361 921.9 1359.2 912.5 1357.5 903.5 1355.8 894.8 1354.1 886.5 1352.4 878.5 1350.8 870.7 1349.1 863.2 1347.6 856 1346 849 1344.5 842.2 1343 835.6 1341.5 829.2 1340 823 1338.6 816.9 1337.2 811 1335.9 805.3 1334.5 799.7 1333.2 794.2 1331.9 788.9 1330.7 783.7 1329.5 778.6 1328.3 773.7 1327.1 768.8 1325.9 764.1 1324.8 759.4 1323.7 754.9 1322.6 750.4 1321.5 746 1320.5 741.7 1319.4 737.5 1318.4 733.4 1317.4 729.4 1316.4 725.4 1315.4 721.5 1314.4 717.6 1313.5 713.8 1312.5 710.1 1311.6 706.5 1310.6 702.9 1309.7 699.4 1308.8 695.9 1307.9 692.5 1307.1 689.1 1306.2 685.8 1305.3 682.5 1304.5 679.3 1303.6 676.1 1302.8 673 1302 669.9 1301.2 666.8 1300.4 663.8 1299.6 660.8 1298.8 657.9 1298 655 1297.2 652.2 1296.5 649.4 1295.7 646.6 1295 643.8 1294.2 641.1 1293.5 638.5 1292.8 635.8 1292.1 633.2 1291.3 630.6 1290.6 628.1 1290 625.5 1289.3 623 1288.6 620.6 1287.9 618.1 1287.2 615.7 1286.6 613.3 1285.9 611 1285.3 608.6 1284.6 606.3 1284 604 1283.4 601.8 1282.7 599.5 1282.1 597.3 1281.5 595.1 1280.9 592.9 1280.3 590.8 1279.7 588.6 1279.1 586.5 1278.5 584.4 1277.9 582.4 1277.3 580.3 1276.7 578.3 1276.2 576.2 1275.6 574.2 1275 572.3 1274.4 570.3 1273.9 568.4 1273.3 566.4 1272.8 564.5 1272.2 562.6 1271.7 560.7 1271.1 558.9 1270.6 557 1270.1 555.2 1269.5 553.4 1269 551.6 1268.5 549.8 1267.9 548 1267.4 546.3 1266.9 544.5 1266.4 542.8 1265.9 541.1 1265.4 539.3 1264.9 537.7 1264.4 536 1263.9 534.3 1263.4 532.7 1262.9 531 1262.4 529.4 1261.9 527.8 1261.4 526.2 1261 524.6 1260.5 523 1260 521.4 1259.5 519.8 1259.1 518.3 1258.6 516.8 1258.1 515.2 1257.7 513.7 1257.2 512.2 1256.7 510.7 1256.3 509.2 1255.8 507.7 1255.4 506.3 1254.9 504.8 1254.5 503.4 1254 501.9 1253.6 500.5 1253.2 499.1 1252.7 497.7 1252.3 496.3 1251.9 494.9 1251.4 493.5 1251 492.1 1250.6 490.7 1250.2 489.4 1249.7 488 1249.3 486.7 1248.9 485.4 1248.5 484 1248.1 482.7 1247.6 481.4 1247.2 480.1 1246.8 478.8 1246.4 477.5 1246 476.2 1245.6 475 1245.2 473.7 1244.8 472.4 1244.4 471.2 1244 469.9 1243.6 468.7 1243.2 467.5 1242.8 466.2 1242.5 465 1242.1 463.8 1241.7 462.6 1241.3 461.4 1240.9 460.2 1240.5 459 1240.2 457.9 1239.8 456.7 1239.4 455.5 1239 454.4 1238.7 453.2 1238.3 452.1 1237.9 450.9 1237.5 449.8 1237.2 448.7 1236.8 447.5 1236.4 446.4 1236.1 445.3 1235.7 444.2 1235.4 443.1 1235 442 1234.6 440.9 1234.3 439.8 1233.9 438.7 1233.6 437.7 1233.2 436.6 1232.9 435.5 1232.5 434.5 1232.2 433.4 1231.8 432.4 1231.5 431.3 1231.1 430.3 1230.8 429.3 1230.4 428.2 1230.1 427.2 1229.8 426.2 1229.4 425.2 1229.1 424.2 1228.7 423.1 1228.4 422.1 1228.1 421.1 1227.7 420.2 1227.4 419.2 1227 418.2 1226.7 417.2 1226.4 416.2 1226 415.3 1225.7 414.3 1225.4 413.3 1225.1 412.4 1224.7 411.4 1224.4 410.5 1224.1 409.5 1223.8 408.6 1223.4 407.6 1223.1 406.7 1222.8 405.8 1222.5 404.8 1222.1 403.9 1221.8 403 1221.5 402.1 1221.2 401.2 1220.9 400.3 1220.5 399.4 1220.2 398.5 1219.9 397.6 1219.6 396.7 1219.3 395.8 1219 394.9 1218.7 394 1218.4 393.1 1218 392.3 1217.7 391.4 1217.4 390.5 1217.1 389.7 1216.8 388.8 1216.5 388 1216.2 387.1 1215.9 386.2 1215.6 385.4 1215.3 384.6 1215 383.7 1214.7 382.9 1214.4 382 1214.1 381.2 1213.8 380.4 1213.5 379.6 1213.2 378.7 1212.9 377.9 1212.6 377.1 1212.3 376.3 1212 375.5 1211.7 374.7 1211.4 373.9 1211.1 373.1 1210.8 372.3 1210.5 371.5 1210.2 370.7 1210 369.9 1209.7 369.1 1209.4 368.3 1209.1 367.5 1208.8 366.7 1208.5 366 1208.2 365.2 1207.9 364.4 1207.7 363.7 1207.4 362.9 1207.1 362.1 1206.8 361.4 1206.5 360.6 1206.2 359.9 1206 359.1 1205.7 358.3 1205.4 357.6 1205.1 356.9 1204.8 356.1 1204.6 355.4 1204.3 354.6 1204 353.9 1203.7 353.2 1203.5 352.4 1203.2 351.7 1202.9 351 1202.6 350.3 1202.4 349.5 1202.1 348.8 1201.8 348.1 1201.5 347.4 1201.3 346.7 1201 346 1200.7 345.3 1200.5 344.6 1200.2 343.9 1199.9 343.2 1199.7 342.5 1199.4 341.8 1199.1 341.1 1198.9 340.4 1198.6 339.7 1198.3 339 1198.1 338.3 1197.8 337.6 1197.5 337 1197.3 336.3 1197 335.6 1196.8 334.9 1196.5 334.3 1196.2 333.6 1196 332.9 1195.7 332.2 1195.5 331.6 1195.2 330.9 1194.9 330.3 1194.7 329.6 1194.4 328.9 1194.2 328.3 1193.9 327.6 1193.6 327 1193.4 326.3 1193.1 325.7 1192.9 325 1192.6 324.4 1192.4 323.8 1192.1 323.1 1191.9 322.5 1191.6 321.9 1191.4 321.2 1191.1 320.6 1190.9 320 1190.6 319.3 1190.4 318.7 1190.1 318.1 1189.9 317.5 1189.6 316.8 1189.4 316.2 1189.1 315.6 1188.9 315 1188.6 314.4 1188.4 313.8 1188.2 313.1 1187.9 312.5 1187.7 311.9 1187.4 311.3 1187.2 310.7 1186.9 310.1 1186.7 309.5 1186.5 308.9 1186.2 308.3 1186 307.7 1185.7 307.1 1185.5 306.5 1185.3 305.9 1185 305.3 1184.8 304.8 1184.5 304.2 1184.3 303.6 1184.1 303 1183.8 302.4 1183.6 301.8 1183.4 301.3 1183.1 300.7 1182.9 300.1 1182.7 299.5 1182.4 299 1182.2 298.4 1182 297.8 1181.7 297.3 1181.5 296.7 1181.3 296.1 1181 295.6 1180.8 295 1180.6 294.4 1180.3 293.9 1180.1 293.3 1179.9 292.8 1179.6 292.2 1179.4 291.6 1179.2 291.1 1179 290.5 1178.7 290 1178.5 289.4 1178.3 288.9 1178 288.3 1177.8 287.8 1177.6 287.3 1177.4 286.7 1177.1 286.2 1176.9 285.6 1176.7 285.1 1176.4 284.6 1176.2 284 1176 283.5 1175.8 283 1175.5 282.4 1175.3 281.9 1175.1 281.4 1174.9 280.8 1174.6 280.3 1174.4 279.8 1174.2 279.3 1174 278.7 1173.7 278.2 1173.5 277.7 1173.3 277.2 1173.1 276.7 1172.8 276.1 1172.6 275.6 1172.4 275.1 1172.1 274.6 1171.9 274.1 1171.7 273.6 1171.5 273.1 1171.2 272.6 1171 272.1 1170.8 271.6 1170.6 271 1170.3 270.5 1170.1 270 1169.9 269.5 1169.7 269 1169.4 268.5 1169.2 268 1169 267.5 1168.8 267 1168.5 266.6 1168.3 266.1 1168.1 265.6 1167.9 265.1 1167.6 264.6 1167.4 264.1 1167.2 263.6 1167 263.1 1166.7 262.6 1166.5 262.2 1166.3 261.7 1166.1 261.2 1165.8 260.7 1165.6 260.2 1165.4 259.7 1165.2 259.3 1164.9 258.8 1164.7 258.3 1164.5 257.8 1164.3 257.4 1164 256.9 1163.8 256.4 1163.6 255.9 1163.3 255.5 1163.1 255 1162.9 254.5 1162.7 254.1 1162.4 253.6 1162.2 253.1 1162 252.7 1161.7 252.2 1161.5 251.7 1161.3 251.3 1161.1 250.8 1160.8 250.4 1160.6 249.9 1160.4 249.4 1160.1 249 1159.9 248.5 1159.7 248.1 1159.4 247.6 1159.2 247.2 1159 246.7 1158.7 246.3 1158.5 245.8 1158.3 245.4 1158.1 244.9 1157.8 244.5 1157.6 244 1157.4 243.6 1157.1 243.1 1156.9 242.7 1156.6 242.2 1156.4 241.8 1156.2 241.4 1155.9 240.9 1155.7 240.5 1155.5 240 1155.2 239.6 1155 239.2 1154.8 238.7 1154.5 238.3 1154.3 237.9 1154 237.4 1153.8 237 1153.6 236.6 1153.3 236.1 1153.1 235.7 1152.8 235.3 1152.6 234.8 1152.3 234.4 1152.1 234 1151.9 233.6 1151.6 233.1 1151.4 232.7 1151.1 232.3 1150.9 231.9 1150.6 231.4 1150.4 231 1150.1 230.6 1149.9 230.2 1149.6 229.8 1149.4 229.4 1149.1 228.9 1148.9 228.5 1148.6 228.1 1148.4 227.7 1148.1 227.3 1147.9 226.9 1147.6 226.4 1147.4 226 1147.1 225.6 1146.9 225.2 1146.6 224.8 1146.4 224.4 1146.1 224 1145.9 223.6 1145.6 223.2 1145.4 222.8 1145.1 222.4 1144.9 222 1144.6 221.6 1144.3 221.2 1144.1 220.8 1143.8 220.4 1143.6 219.9 1143.3 219.5 1143.1 219.2 1142.8 218.8 1142.5 218.4 1142.3 218 1142 217.6 1141.8 217.2 1141.5 216.8 1141.3 216.4 1141 216 1140.7 215.6 1140.5 215.2 1140.2 214.8 1140 214.4 1139.7 214 1139.4 213.6 1139.2 213.2 1138.9 212.9 1138.7 212.5 1138.4 212.1 1138.1 211.7 1137.9 211.3 1137.6 210.9 1137.4 210.5 1137.1 210.2 1136.8 209.8 1136.6 209.4 1136.3 209 1136.1 208.6 1135.8 208.3 1135.5 207.9 1135.3 207.5 1135 207.1 1134.7 206.7 1134.5 206.4 1134.2 206 1134 205.6 1133.7 205.2 1133.4 204.9 1133.2 204.5 1132.9 204.1 1132.7 203.8 1132.4 203.4 1132.1 203 1131.9 202.6 1131.6 202.3 1131.3 201.9 1131.1 201.5 1130.8 201.2 1130.6 200.8 1130.3 200.4 1130 200.1 1129.8 199.7 1129.5 199.3 1129.2 199 1129 198.6 1128.7 198.2 1128.5 197.9 1128.2 197.5 1127.9 197.2 1127.7 196.8 1127.4 196.4 1127.2 196.1 1126.9 195.7 1126.6 195.4 1126.4 195 1126.1 194.6 1125.8 194.3 1125.6 193.9 1125.3 193.6 1125.1 193.2 1124.8 192.9 1124.5 192.5 1124.3 192.2 1124 191.8 1123.8 191.5 1123.5 191.1 1123.3 190.8 1123 190.4 1122.7 190.1 1122.5 189.7 1122.2 189.4 1122 189 1121.7 188.7 1121.5 188.3 1121.2 188 1120.9 187.6 1120.7 187.3 1120.4 186.9 1120.2 186.6 1119.9 186.2 1119.7 185.9 1119.4 185.6 1119.2 185.2 1118.9 184.9 1118.7 184.5 1118.4 184.2 1118.1 183.9 1117.9 183.5 1117.6 183.2 1117.4 182.8 1117.1 182.5 1116.9 182.2 1116.6 181.8 1116.4 181.5 1116.1 181.2 1115.9 180.8 1115.6 180.5 1115.4 180.1 1115.1 179.8 1114.9 179.5 1114.6 179.1 1114.4 178.8 1114.1 178.5 1113.8 178.1 1113.6 177.8 1113.3 177.5 1113.1 177.2 1112.8 176.8 1112.6 176.5 1112.3 176.2 1112.1 175.8 1111.8 175.5 1111.5 175.2 1111.3 174.9 1111 174.5 1110.8 174.2 1110.5 173.9 1110.3 173.6 1110 173.2 1109.7 172.9 1109.5 172.6 1109.2 172.3 1109 171.9 1108.7 171.6 1108.5 171.3 1108.2 171 1107.9 170.7 1107.7 170.3 1107.4 170 1107.2 169.7 1106.9 169.4 1106.6 169.1 1106.4 168.7 1106.1 168.4 1105.8 168.1 1105.6 167.8 1105.3 167.5 1105.1 167.2 1104.8 166.9 1104.5 166.5 1104.3 166.2 1104 165.9 1103.7 165.6 1103.5 165.3 1103.2 165 1103 164.7 1102.7 164.4 1102.4 164 1102.2 163.7 1101.9 163.4 1101.6 163.1 1101.4 162.8 1101.1 162.5 1100.8 162.2 1100.6 161.9 1100.3 161.6 1100 161.3 1099.8 161 1099.5 160.6 1099.2 160.3 1099 160 1098.7 159.7 1098.4 159.4 1098.2 159.1 1097.9 158.8 1097.6 158.5 1097.3 158.2 1097.1 157.9 1096.8 157.6 1096.5 157.3 1096.3 157 1096 156.7 1095.7 156.4 1095.4 156.1 1095.2 155.8 1094.9 155.5 1094.6 155.2 1094.3 154.9 1094.1 154.6 1093.8 154.3 1093.5 154 1093.2 153.7 1093 153.4 1092.7 153.1 1092.4 152.8 1092.1 152.5 1091.9 152.2 1091.6 151.9 1091.3 151.7 1091 151.4 1090.7 151.1 1090.5 150.8 1090.2 150.5 1089.9 150.2 1089.6 149.9 1089.3 149.6 1089.1 149.3 1088.8 149 1088.5 148.7 1088.2 148.4 1087.9 148.2 1087.7 147.9 1087.4 147.6 1087.1 147.3 1086.8 147 1086.5 146.7 1086.2 146.4 1085.9 146.1 1085.7 145.9 1085.4 145.6 1085.1 145.3 1084.8 145 1084.5 144.7 1084.2 144.4 1083.9 144.1 1083.6 143.9 1083.3 143.6 1083.1 143.3 1082.8 143 1082.5 142.7 1082.2 142.5 1081.9 142.2 1081.6 141.9 1081.3 141.6 1081 141.3 1080.7 141 1080.4 140.8 1080.1 140.5 1079.8 140.2 1079.5 139.9 1079.2 139.7 1078.9 139.4 1078.6 139.1 1078.3 138.8 1078 138.5 1077.7 138.3 1077.5 138 1077.2 137.7 1076.8 137.4 1076.5 137.2 1076.2 136.9 1075.9 136.6 1075.6 136.3 1075.3 136.1 1075 135.8 1074.7 135.5 1074.4 135.2 1074.1 135 1073.8 134.7 1073.5 134.4 1073.2 134.2 1072.9 133.9 1072.6 133.6 1072.3 133.3 1072 133.1 1071.7 132.8 1071.4 132.5 1071.1 132.3 1070.8 132 1070.5 131.7 1070.2 131.5 1069.9 131.2 1069.6 130.9 1069.3 130.7 1069 130.4 1068.7 130.1 1068.3 129.9 1068 129.6 1067.7 129.3 1067.4 129.1 1067.1 128.8 1066.8 128.5 1066.5 128.3 1066.2 128 1065.8 127.7 1065.5 127.5 1065.2 127.2 1064.9 126.9 1064.6 126.7 1064.2 126.4 1063.9 126.2 1063.6 125.9 1063.3 125.6 1063 125.4 1062.6 125.1 1062.3 124.9 1062 124.6 1061.6 124.3 1061.3 124.1 1061 123.8 1060.6 123.6 1060.3 123.3 1059.9 123 1059.6 122.8 1059.3 122.5 1058.9 122.3 1058.6 122 1058.2 121.8 1057.9 121.5 1057.5 121.2 1057.2 121 1056.8 120.7 1056.4 120.5 1056.1 120.2 1055.7 120 1055.3 119.7 1055 119.5 1054.6 119.2 1054.2 119 1053.8 118.7 1053.5 118.4 1053.1 118.2 1052.7 117.9 1052.3 117.7 1051.9 117.4 1051.5 117.2 1051.1 116.9 1050.7 116.7 1050.3 116.4 1049.8 116.2 1049.4 115.9 1049 115.7 1048.6 115.4 1048.1 115.2 1047.7 114.9 1047.3 114.7 1046.8 114.4 1046.4 114.2 1045.9 113.9 1045.4 113.7 1045 113.4 1044.5 113.2 1044 113 1043.5 112.7 1043 112.5 1042.5 112.2 1042 112 1041.5 111.7 1040.9 111.5 1040.4 111.2 1039.9 111 1039.3 110.7 1038.8 110.5 1038.2 110.3 1037.7 110 1037.1 109.8 1036.5 109.5 1035.9 109.3 1035.3 109 1034.7 108.8 1034.1 108.6 1033.5 108.3 1032.9 108.1 1032.2 107.8 1031.6 107.6 1030.9 107.4 1030.3 107.1 1029.6 106.9 1028.9 106.6 1028.3 106.4 1027.6 106.2 1026.9 105.9 1026.1 105.7 1025.4 105.4 1024.7 105.2 1023.9 105 1023.2 104.7 1022.4 104.5 1021.6 104.3 1020.8 104 1020 103.8 1019.2 103.5 1018.4 103.3 1017.5 103.1 1016.7 102.8 1015.8 102.6 1014.9 102.4 1014 102.1 1013.1 101.9 1012.2 101.7 1011.2 101.4 1010.3 101.2 1009.3 101 1008.3 100.7 1007.3 100.5 1006.2 100.3 1005.2 100 1004.1 99.8 1003 99.6 1001.9 99.3 1000.7 99.1 999.5 98.9 998.3 98.6 997 98.4 995.7 98.2 994.4 97.9 993 97.7 991.6 97.5 990.2 97.3 988.7 97 987.2 96.8 985.7 96.6 984.1 96.3 982.5 96.1 980.8 95.9 979.1 95.7 977.4 95.4 975.7 95.2 973.9 95 972.1 94.7 970.3 94.5 968.4 94.3 966.5 94.1 964.4 93.8 962.1 93.6 959.7 93.4 957.2 93.2 954.5 92.9 951.7 92.7 948.9 92.5 945.9 92.3 942.9 92 940 91.8 937.3 91.6 934.8 91.4 932.8 91.1 931.6 90.9 930.9 90.7 930.1 90.5 929.4 90.3 928.6 90 927.7 89.8 926.9 89.6 926.1 89.4 925.4 89.1 925 88.9 910 88.7" stroke="#00A3CE" stroke-width="3.0" fill="none" stroke-linejoin="round" marker-start="url(#k_m_cyan)" marker-mid="url(#k_m_cyan)" marker-end="url(#k_m_cyan)"/>
<path d="M1425.8 1614.5 1393.6 1461.4 1375 1371.8 1364 1308.3 1362.9 1259 1363.7 1218.7 1358.6 1184.7 1355.2 1155.2 1353.5 1129.2 1348.4 1105.9 1334.7 1084.8 1331.1 1065.6 1327.8 1047.9 1324.7 1031.6 1321.9 1016.3 1319.3 1002.1 1316.8 988.7 1314.5 976.1 1312.3 964.1 1310.2 952.8 1308.3 942 1306.4 931.7 1304.7 921.9 1303 912.5 1301.3 903.5 1299.8 894.8 1298.4 886.5 1297 878.5 1295.7 870.7 1294.4 863.2 1293.2 856 1292 849 1290.9 842.2 1289.8 835.6 1288.8 829.2 1287.7 823 1286.7 816.9 1285.7 811 1284.7 805.3 1283.8 799.7 1282.8 794.2 1281.9 788.9 1280.9 783.7 1280 778.6 1279.1 773.7 1278.2 768.8 1277.3 764.1 1276.4 759.4 1275.5 754.9 1274.6 750.4 1273.7 746 1272.8 741.7 1271.9 737.5 1271 733.4 1270.2 729.4 1269.3 725.4 1268.4 721.5 1267.6 717.6 1266.7 713.8 1265.9 710.1 1265.1 706.5 1264.2 702.9 1263.4 699.4 1262.6 695.9 1261.8 692.5 1261 689.1 1260.2 685.8 1259.4 682.5 1258.6 679.3 1257.8 676.1 1257.1 673 1256.3 669.9 1255.5 666.8 1254.8 663.8 1254.1 660.8 1253.3 657.9 1252.6 655 1251.9 652.2 1251.2 649.4 1250.5 646.6 1249.8 643.8 1249.1 641.1 1248.4 638.5 1247.7 635.8 1247 633.2 1246.3 630.6 1245.7 628.1 1245 625.5 1244.4 623 1243.7 620.6 1243.1 618.1 1242.5 615.7 1241.8 613.3 1241.2 611 1240.6 608.6 1240 606.3 1239.4 604 1238.8 601.8 1238.2 599.5 1237.6 597.3 1237 595.1 1236.4 592.9 1235.9 590.8 1235.3 588.6 1234.7 586.5 1234.1 584.4 1233.6 582.4 1233 580.3 1232.4 578.3 1231.9 576.2 1231.3 574.2 1230.8 572.3 1230.2 570.3 1229.7 568.4 1229.1 566.4 1228.6 564.5 1228 562.6 1227.5 560.7 1227 558.9 1226.4 557 1225.9 555.2 1225.4 553.4 1224.8 551.6 1224.3 549.8 1223.8 548 1223.3 546.3 1222.8 544.5 1222.2 542.8 1221.7 541.1 1221.2 539.3 1220.7 537.7 1220.2 536 1219.7 534.3 1219.2 532.7 1218.7 531 1218.2 529.4 1217.8 527.8 1217.3 526.2 1216.8 524.6 1216.3 523 1215.8 521.4 1215.4 519.8 1214.9 518.3 1214.4 516.8 1213.9 515.2 1213.5 513.7 1213 512.2 1212.6 510.7 1212.1 509.2 1211.6 507.7 1211.2 506.3 1210.7 504.8 1210.3 503.4 1209.9 501.9 1209.4 500.5 1209 499.1 1208.5 497.7 1208.1 496.3 1207.7 494.9 1207.2 493.5 1206.8 492.1 1206.4 490.7 1206 489.4 1205.6 488 1205.1 486.7 1204.7 485.4 1204.3 484 1203.9 482.7 1203.5 481.4 1203.1 480.1 1202.7 478.8 1202.3 477.5 1201.9 476.2 1201.5 475 1201.1 473.7 1200.7 472.4 1200.3 471.2 1199.9 469.9 1199.6 468.7 1199.2 467.5 1198.8 466.2 1198.4 465 1198 463.8 1197.7 462.6 1197.3 461.4 1196.9 460.2 1196.6 459 1196.2 457.9 1195.8 456.7 1195.5 455.5 1195.1 454.4 1194.8 453.2 1194.4 452.1 1194.1 450.9 1193.7 449.8 1193.4 448.7 1193 447.5 1192.7 446.4 1192.3 445.3 1192 444.2 1191.7 443.1 1191.3 442 1191 440.9 1190.7 439.8 1190.3 438.7 1190 437.7 1189.7 436.6 1189.4 435.5 1189 434.5 1188.7 433.4 1188.4 432.4 1188.1 431.3 1187.8 430.3 1187.4 429.3 1187.1 428.2 1186.8 427.2 1186.5 426.2 1186.2 425.2 1185.9 424.2 1185.6 423.1 1185.3 422.1 1185 421.1 1184.7 420.2 1184.4 419.2 1184.1 418.2 1183.8 417.2 1183.5 416.2 1183.2 415.3 1182.9 414.3 1182.6 413.3 1182.3 412.4 1182 411.4 1181.7 410.5 1181.5 409.5 1181.2 408.6 1180.9 407.6 1180.6 406.7 1180.3 405.8 1180 404.8 1179.7 403.9 1179.5 403 1179.2 402.1 1178.9 401.2 1178.6 400.3 1178.4 399.4 1178.1 398.5 1177.8 397.6 1177.5 396.7 1177.3 395.8 1177 394.9 1176.7 394 1176.4 393.1 1176.2 392.3 1175.9 391.4 1175.6 390.5 1175.4 389.7 1175.1 388.8 1174.8 388 1174.6 387.1 1174.3 386.2 1174 385.4 1173.8 384.6 1173.5 383.7 1173.2 382.9 1173 382 1172.7 381.2 1172.5 380.4 1172.2 379.6 1171.9 378.7 1171.7 377.9 1171.4 377.1 1171.2 376.3 1170.9 375.5 1170.7 374.7 1170.4 373.9 1170.1 373.1 1169.9 372.3 1169.6 371.5 1169.4 370.7 1169.1 369.9 1168.9 369.1 1168.6 368.3 1168.4 367.5 1168.1 366.7 1167.9 366 1167.6 365.2 1167.4 364.4 1167.1 363.7 1166.9 362.9 1166.6 362.1 1166.4 361.4 1166.1 360.6 1165.9 359.9 1165.6 359.1 1165.4 358.3 1165.1 357.6 1164.9 356.9 1164.6 356.1 1164.4 355.4 1164.1 354.6 1163.9 353.9 1163.7 353.2 1163.4 352.4 1163.2 351.7 1162.9 351 1162.7 350.3 1162.4 349.5 1162.2 348.8 1161.9 348.1 1161.7 347.4 1161.5 346.7 1161.2 346 1161 345.3 1160.7 344.6 1160.5 343.9 1160.2 343.2 1160 342.5 1159.8 341.8 1159.5 341.1 1159.3 340.4 1159 339.7 1158.8 339 1158.6 338.3 1158.3 337.6 1158.1 337 1157.8 336.3 1157.6 335.6 1157.3 334.9 1157.1 334.3 1156.9 333.6 1156.6 332.9 1156.4 332.2 1156.1 331.6 1155.9 330.9 1155.7 330.3 1155.4 329.6 1155.2 328.9 1154.9 328.3 1154.7 327.6 1154.5 327 1154.2 326.3 1154 325.7 1153.7 325 1153.5 324.4 1153.3 323.8 1153 323.1 1152.8 322.5 1152.5 321.9 1152.3 321.2 1152.1 320.6 1151.8 320 1151.6 319.3 1151.3 318.7 1151.1 318.1 1150.9 317.5 1150.6 316.8 1150.4 316.2 1150.1 315.6 1149.9 315 1149.6 314.4 1149.4 313.8 1149.2 313.1 1148.9 312.5 1148.7 311.9 1148.4 311.3 1148.2 310.7 1147.9 310.1 1147.7 309.5 1147.4 308.9 1147.2 308.3 1146.9 307.7 1146.7 307.1 1146.4 306.5 1146.2 305.9 1146 305.3 1145.7 304.8 1145.5 304.2 1145.2 303.6 1145 303 1144.7 302.4 1144.5 301.8 1144.2 301.3 1144 300.7 1143.7 300.1 1143.5 299.5 1143.2 299 1143 298.4 1142.7 297.8 1142.5 297.3 1142.2 296.7 1142 296.1 1141.7 295.6 1141.5 295 1141.3 294.4 1141 293.9 1140.8 293.3 1140.5 292.8 1140.3 292.2 1140 291.6 1139.8 291.1 1139.5 290.5 1139.3 290 1139 289.4 1138.8 288.9 1138.5 288.3 1138.3 287.8 1138 287.3 1137.8 286.7 1137.5 286.2 1137.3 285.6 1137 285.1 1136.8 284.6 1136.6 284 1136.3 283.5 1136.1 283 1135.8 282.4 1135.6 281.9 1135.3 281.4 1135.1 280.8 1134.8 280.3 1134.6 279.8 1134.3 279.3 1134.1 278.7 1133.9 278.2 1133.6 277.7 1133.4 277.2 1133.1 276.7 1132.9 276.1 1132.6 275.6 1132.4 275.1 1132.2 274.6 1131.9 274.1 1131.7 273.6 1131.4 273.1 1131.2 272.6 1131 272.1 1130.7 271.6 1130.5 271 1130.2 270.5 1130 270 1129.8 269.5 1129.5 269 1129.3 268.5 1129 268 1128.8 267.5 1128.6 267 1128.3 266.6 1128.1 266.1 1127.9 265.6 1127.6 265.1 1127.4 264.6 1127.2 264.1 1126.9 263.6 1126.7 263.1 1126.5 262.6 1126.2 262.2 1126 261.7 1125.8 261.2 1125.5 260.7 1125.3 260.2 1125.1 259.7 1124.8 259.3 1124.6 258.8 1124.4 258.3 1124.2 257.8 1123.9 257.4 1123.7 256.9 1123.5 256.4 1123.2 255.9 1123 255.5 1122.8 255 1122.6 254.5 1122.3 254.1 1122.1 253.6 1121.9 253.1 1121.7 252.7 1121.5 252.2 1121.2 251.7 1121 251.3 1120.8 250.8 1120.6 250.4 1120.4 249.9 1120.1 249.4 1119.9 249 1119.7 248.5 1119.5 248.1 1119.3 247.6 1119.1 247.2 1118.8 246.7 1118.6 246.3 1118.4 245.8 1118.2 245.4 1118 244.9 1117.8 244.5 1117.6 244 1117.4 243.6 1117.2 243.1 1116.9 242.7 1116.7 242.2 1116.5 241.8 1116.3 241.4 1116.1 240.9 1115.9 240.5 1115.7 240 1115.5 239.6 1115.3 239.2 1115.1 238.7 1114.9 238.3 1114.7 237.9 1114.5 237.4 1114.3 237 1114.1 236.6 1113.9 236.1 1113.7 235.7 1113.5 235.3 1113.3 234.8 1113.1 234.4 1112.9 234 1112.7 233.6 1112.5 233.1 1112.3 232.7 1112.1 232.3 1112 231.9 1111.8 231.4 1111.6 231 1111.4 230.6 1111.2 230.2 1111 229.8 1110.8 229.4 1110.6 228.9 1110.4 228.5 1110.2 228.1 1110 227.7 1109.9 227.3 1109.7 226.9 1109.5 226.4 1109.3 226 1109.1 225.6 1108.9 225.2 1108.7 224.8 1108.5 224.4 1108.4 224 1108.2 223.6 1108 223.2 1107.8 222.8 1107.6 222.4 1107.4 222 1107.3 221.6 1107.1 221.2 1106.9 220.8 1106.7 220.4 1106.5 219.9 1106.3 219.5 1106.1 219.2 1106 218.8 1105.8 218.4 1105.6 218 1105.4 217.6 1105.2 217.2 1105.1 216.8 1104.9 216.4 1104.7 216 1104.5 215.6 1104.3 215.2 1104.1 214.8 1104 214.4 1103.8 214 1103.6 213.6 1103.4 213.2 1103.2 212.9 1103 212.5 1102.9 212.1 1102.7 211.7 1102.5 211.3 1102.3 210.9 1102.1 210.5 1102 210.2 1101.8 209.8 1101.6 209.4 1101.4 209 1101.2 208.6 1101 208.3 1100.9 207.9 1100.7 207.5 1100.5 207.1 1100.3 206.7 1100.1 206.4 1099.9 206 1099.8 205.6 1099.6 205.2 1099.4 204.9 1099.2 204.5 1099 204.1 1098.8 203.8 1098.6 203.4 1098.5 203 1098.3 202.6 1098.1 202.3 1097.9 201.9 1097.7 201.5 1097.5 201.2 1097.3 200.8 1097.1 200.4 1097 200.1 1096.8 199.7 1096.6 199.3 1096.4 199 1096.2 198.6 1096 198.2 1095.8 197.9 1095.6 197.5 1095.4 197.2 1095.2 196.8 1095 196.4 1094.8 196.1 1094.6 195.7 1094.5 195.4 1094.3 195 1094.1 194.6 1093.9 194.3 1093.7 193.9 1093.5 193.6 1093.3 193.2 1093.1 192.9 1092.9 192.5 1092.7 192.2 1092.5 191.8 1092.3 191.5 1092.1 191.1 1091.9 190.8 1091.7 190.4 1091.4 190.1 1091.2 189.7 1091 189.4 1090.8 189 1090.6 188.7 1090.4 188.3 1090.2 188 1090 187.6 1089.8 187.3 1089.6 186.9 1089.4 186.6 1089.1 186.2 1088.9 185.9 1088.7 185.6 1088.5 185.2 1088.3 184.9 1088 184.5 1087.8 184.2 1087.6 183.9 1087.4 183.5 1087.2 183.2 1086.9 182.8 1086.7 182.5 1086.5 182.2 1086.3 181.8 1086 181.5 1085.8 181.2 1085.6 180.8 1085.3 180.5 1085.1 180.1 1084.9 179.8 1084.6 179.5 1084.4 179.1 1084.2 178.8 1083.9 178.5 1083.7 178.1 1083.4 177.8 1083.2 177.5 1082.9 177.2 1082.7 176.8 1082.5 176.5 1082.2 176.2 1082 175.8 1081.7 175.5 1081.5 175.2 1081.2 174.9 1081 174.5 1080.7 174.2 1080.5 173.9 1080.2 173.6 1080 173.2 1079.7 172.9 1079.5 172.6 1079.2 172.3 1078.9 171.9 1078.7 171.6 1078.4 171.3 1078.2 171 1077.9 170.7 1077.6 170.3 1077.4 170 1077.1 169.7 1076.8 169.4 1076.6 169.1 1076.3 168.7 1076 168.4 1075.8 168.1 1075.5 167.8 1075.2 167.5 1075 167.2 1074.7 166.9 1074.4 166.5 1074.1 166.2 1073.9 165.9 1073.6 165.6 1073.3 165.3 1073 165 1072.8 164.7 1072.5 164.4 1072.2 164 1071.9 163.7 1071.6 163.4 1071.3 163.1 1071.1 162.8 1070.8 162.5 1070.5 162.2 1070.2 161.9 1069.9 161.6 1069.6 161.3 1069.3 161 1069.1 160.6 1068.8 160.3 1068.5 160 1068.2 159.7 1067.9 159.4 1067.6 159.1 1067.3 158.8 1067 158.5 1066.7 158.2 1066.4 157.9 1066.1 157.6 1065.8 157.3 1065.5 157 1065.2 156.7 1064.9 156.4 1064.6 156.1 1064.3 155.8 1064 155.5 1063.7 155.2 1063.4 154.9 1063.1 154.6 1062.8 154.3 1062.5 154 1062.2 153.7 1061.9 153.4 1061.6 153.1 1061.3 152.8 1061 152.5 1060.7 152.2 1060.4 151.9 1060.1 151.7 1059.8 151.4 1059.5 151.1 1059.2 150.8 1058.9 150.5 1058.5 150.2 1058.2 149.9 1057.9 149.6 1057.6 149.3 1057.3 149 1057 148.7 1056.7 148.4 1056.4 148.2 1056 147.9 1055.7 147.6 1055.4 147.3 1055.1 147 1054.8 146.7 1054.5 146.4 1054.2 146.1 1053.9 145.9 1053.5 145.6 1053.2 145.3 1052.9 145 1052.6 144.7 1052.3 144.4 1052 144.1 1051.6 143.9 1051.3 143.6 1051 143.3 1050.7 143 1050.4 142.7 1050.1 142.5 1049.7 142.2 1049.4 141.9 1049.1 141.6 1048.8 141.3 1048.5 141 1048.2 140.8 1047.9 140.5 1047.5 140.2 1047.2 139.9 1046.9 139.7 1046.6 139.4 1046.3 139.1 1046 138.8 1045.7 138.5 1045.3 138.3 1045 138 1044.7 137.7 1044.4 137.4 1044.1 137.2 1043.8 136.9 1043.5 136.6 1043.1 136.3 1042.8 136.1 1042.5 135.8 1042.2 135.5 1041.9 135.2 1041.5 135 1041.2 134.7 1040.9 134.4 1040.6 134.2 1040.2 133.9 1039.9 133.6 1039.6 133.3 1039.3 133.1 1038.9 132.8 1038.6 132.5 1038.3 132.3 1037.9 132 1037.6 131.7 1037.2 131.5 1036.9 131.2 1036.6 130.9 1036.2 130.7 1035.9 130.4 1035.5 130.1 1035.2 129.9 1034.9 129.6 1034.5 129.3 1034.2 129.1 1033.8 128.8 1033.5 128.5 1033.1 128.3 1032.8 128 1032.4 127.7 1032.1 127.5 1031.7 127.2 1031.4 126.9 1031 126.7 1030.6 126.4 1030.3 126.2 1029.9 125.9 1029.6 125.6 1029.2 125.4 1028.8 125.1 1028.5 124.9 1028.1 124.6 1027.7 124.3 1027.4 124.1 1027 123.8 1026.6 123.6 1026.2 123.3 1025.9 123 1025.5 122.8 1025.1 122.5 1024.7 122.3 1024.4 122 1024 121.8 1023.6 121.5 1023.2 121.2 1022.8 121 1022.5 120.7 1022.1 120.5 1021.7 120.2 1021.3 120 1020.9 119.7 1020.5 119.5 1020.1 119.2 1019.7 119 1019.3 118.7 1019 118.4 1018.6 118.2 1018.2 117.9 1017.8 117.7 1017.4 117.4 1017 117.2 1016.6 116.9 1016.2 116.7 1015.8 116.4 1015.4 116.2 1014.9 115.9 1014.5 115.7 1014.1 115.4 1013.7 115.2 1013.3 114.9 1012.9 114.7 1012.5 114.4 1012.1 114.2 1011.7 113.9 1011.3 113.7 1010.8 113.4 1010.4 113.2 1010 113 1009.6 112.7 1009.2 112.5 1008.8 112.2 1008.3 112 1007.9 111.7 1007.5 111.5 1007.1 111.2 1006.7 111 1006.3 110.7 1005.8 110.5 1005.4 110.3 1005 110 1004.6 109.8 1004.2 109.5 1003.7 109.3 1003.3 109 1002.9 108.8 1002.5 108.6 1002 108.3 1001.6 108.1 1001.2 107.8 1000.8 107.6 1000.3 107.4 999.9 107.1 999.5 106.9 999 106.6 998.6 106.4 998.1 106.2 997.7 105.9 997.2 105.7 996.8 105.4 996.3 105.2 995.9 105 995.4 104.7 994.9 104.5 994.5 104.3 994 104 993.5 103.8 993 103.5 992.5 103.3 992 103.1 991.4 102.8 990.9 102.6 990.4 102.4 989.8 102.1 989.2 101.9 988.7 101.7 988.1 101.4 987.5 101.2 986.8 101 986.2 100.7 985.6 100.5 984.9 100.3 984.2 100 983.5 99.8 982.7 99.6 981.9 99.3 981.2 99.1 980.3 98.9 979.5 98.6 978.7 98.4 977.8 98.2 976.9 97.9 975.9 97.7 975 97.5 974 97.3 973 97 971.9 96.8 970.9 96.6 969.8 96.3 968.7 96.1 967.5 95.9 966.4 95.7 965.2 95.4 964 95.2 962.8 95 961.5 94.7 960.3 94.5 959 94.3 957.7 94.1 956.3 93.8 954.9 93.6 953.4 93.4 951.9 93.2 950.3 92.9 948.6 92.7 946.9 92.5 945.1 92.3 943.3 92 941.4 91.8 939.5 91.6 937.6 91.4 935.7 91.1 933.8 90.9 931.9 90.7 929.9 90.5 927.7 90.3 925.2 90 922.5 89.8 919.6 89.6 916.3 89.4 912.9 89.1 910 88.9 895 88.7" stroke="#C85A28" stroke-width="3.0" fill="none" stroke-linejoin="round" marker-start="url(#k_m_brown)" marker-mid="url(#k_m_brown)" marker-end="url(#k_m_brown)"/>
<path d="M1397.3 1614.5 1374.1 1461.4 1362.9 1371.8 1354.4 1308.3 1353.9 1259 1351 1218.7 1343.4 1184.7 1341.7 1155.2 1338.3 1129.2 1335 1105.9 1343.4 1084.8 1337.9 1065.6 1332.9 1047.9 1328.3 1031.6 1324.1 1016.3 1320.3 1002.1 1316.7 988.7 1313.4 976.1 1310.3 964.1 1307.4 952.8 1304.7 942 1302.2 931.7 1299.7 921.9 1297.4 912.5 1295.3 903.5 1293.2 894.8 1291.3 886.5 1289.4 878.5 1287.7 870.7 1286 863.2 1284.5 856 1282.9 849 1281.5 842.2 1280 835.6 1278.7 829.2 1277.4 823 1276.1 816.9 1274.8 811 1273.6 805.3 1272.4 799.7 1271.3 794.2 1270.1 788.9 1269 783.7 1267.9 778.6 1266.8 773.7 1265.8 768.8 1264.7 764.1 1263.7 759.4 1262.7 754.9 1261.7 750.4 1260.7 746 1259.7 741.7 1258.8 737.5 1257.8 733.4 1256.9 729.4 1256 725.4 1255.1 721.5 1254.3 717.6 1253.4 713.8 1252.6 710.1 1251.7 706.5 1250.9 702.9 1250.1 699.4 1249.3 695.9 1248.5 692.5 1247.7 689.1 1247 685.8 1246.2 682.5 1245.5 679.3 1244.7 676.1 1244 673 1243.3 669.9 1242.6 666.8 1241.9 663.8 1241.2 660.8 1240.5 657.9 1239.8 655 1239.1 652.2 1238.5 649.4 1237.8 646.6 1237.1 643.8 1236.5 641.1 1235.8 638.5 1235.2 635.8 1234.6 633.2 1233.9 630.6 1233.3 628.1 1232.7 625.5 1232.1 623 1231.5 620.6 1230.9 618.1 1230.3 615.7 1229.7 613.3 1229.1 611 1228.5 608.6 1227.9 606.3 1227.4 604 1226.8 601.8 1226.2 599.5 1225.6 597.3 1225.1 595.1 1224.5 592.9 1224 590.8 1223.4 588.6 1222.9 586.5 1222.3 584.4 1221.8 582.4 1221.2 580.3 1220.7 578.3 1220.1 576.2 1219.6 574.2 1219.1 572.3 1218.5 570.3 1218 568.4 1217.5 566.4 1217 564.5 1216.4 562.6 1215.9 560.7 1215.4 558.9 1214.9 557 1214.4 555.2 1213.9 553.4 1213.4 551.6 1212.9 549.8 1212.4 548 1211.9 546.3 1211.4 544.5 1210.9 542.8 1210.4 541.1 1209.9 539.3 1209.5 537.7 1209 536 1208.5 534.3 1208 532.7 1207.6 531 1207.1 529.4 1206.6 527.8 1206.2 526.2 1205.7 524.6 1205.3 523 1204.8 521.4 1204.3 519.8 1203.9 518.3 1203.5 516.8 1203 515.2 1202.6 513.7 1202.1 512.2 1201.7 510.7 1201.3 509.2 1200.8 507.7 1200.4 506.3 1200 504.8 1199.5 503.4 1199.1 501.9 1198.7 500.5 1198.3 499.1 1197.9 497.7 1197.4 496.3 1197 494.9 1196.6 493.5 1196.2 492.1 1195.8 490.7 1195.4 489.4 1195 488 1194.6 486.7 1194.2 485.4 1193.8 484 1193.4 482.7 1193 481.4 1192.7 480.1 1192.3 478.8 1191.9 477.5 1191.5 476.2 1191.1 475 1190.8 473.7 1190.4 472.4 1190 471.2 1189.6 469.9 1189.3 468.7 1188.9 467.5 1188.5 466.2 1188.2 465 1187.8 463.8 1187.5 462.6 1187.1 461.4 1186.7 460.2 1186.4 459 1186 457.9 1185.7 456.7 1185.3 455.5 1185 454.4 1184.7 453.2 1184.3 452.1 1184 450.9 1183.6 449.8 1183.3 448.7 1183 447.5 1182.6 446.4 1182.3 445.3 1182 444.2 1181.7 443.1 1181.3 442 1181 440.9 1180.7 439.8 1180.4 438.7 1180.1 437.7 1179.7 436.6 1179.4 435.5 1179.1 434.5 1178.8 433.4 1178.5 432.4 1178.2 431.3 1177.9 430.3 1177.6 429.3 1177.3 428.2 1177 427.2 1176.7 426.2 1176.4 425.2 1176.1 424.2 1175.8 423.1 1175.5 422.1 1175.2 421.1 1174.9 420.2 1174.6 419.2 1174.3 418.2 1174 417.2 1173.8 416.2 1173.5 415.3 1173.2 414.3 1172.9 413.3 1172.6 412.4 1172.3 411.4 1172.1 410.5 1171.8 409.5 1171.5 408.6 1171.2 407.6 1170.9 406.7 1170.7 405.8 1170.4 404.8 1170.1 403.9 1169.9 403 1169.6 402.1 1169.3 401.2 1169 400.3 1168.8 399.4 1168.5 398.5 1168.2 397.6 1168 396.7 1167.7 395.8 1167.4 394.9 1167.2 394 1166.9 393.1 1166.7 392.3 1166.4 391.4 1166.1 390.5 1165.9 389.7 1165.6 388.8 1165.4 388 1165.1 387.1 1164.8 386.2 1164.6 385.4 1164.3 384.6 1164.1 383.7 1163.8 382.9 1163.6 382 1163.3 381.2 1163 380.4 1162.8 379.6 1162.5 378.7 1162.3 377.9 1162 377.1 1161.8 376.3 1161.5 375.5 1161.3 374.7 1161 373.9 1160.8 373.1 1160.5 372.3 1160.3 371.5 1160 370.7 1159.8 369.9 1159.5 369.1 1159.3 368.3 1159.1 367.5 1158.8 366.7 1158.6 366 1158.3 365.2 1158.1 364.4 1157.8 363.7 1157.6 362.9 1157.3 362.1 1157.1 361.4 1156.9 360.6 1156.6 359.9 1156.4 359.1 1156.1 358.3 1155.9 357.6 1155.6 356.9 1155.4 356.1 1155.2 355.4 1154.9 354.6 1154.7 353.9 1154.4 353.2 1154.2 352.4 1153.9 351.7 1153.7 351 1153.5 350.3 1153.2 349.5 1153 348.8 1152.7 348.1 1152.5 347.4 1152.3 346.7 1152 346 1151.8 345.3 1151.5 344.6 1151.3 343.9 1151.1 343.2 1150.8 342.5 1150.6 341.8 1150.3 341.1 1150.1 340.4 1149.9 339.7 1149.6 339 1149.4 338.3 1149.1 337.6 1148.9 337 1148.7 336.3 1148.4 335.6 1148.2 334.9 1148 334.3 1147.7 333.6 1147.5 332.9 1147.2 332.2 1147 331.6 1146.8 330.9 1146.5 330.3 1146.3 329.6 1146 328.9 1145.8 328.3 1145.6 327.6 1145.3 327 1145.1 326.3 1144.8 325.7 1144.6 325 1144.4 324.4 1144.1 323.8 1143.9 323.1 1143.6 322.5 1143.4 321.9 1143.2 321.2 1142.9 320.6 1142.7 320 1142.4 319.3 1142.2 318.7 1141.9 318.1 1141.7 317.5 1141.5 316.8 1141.2 316.2 1141 315.6 1140.7 315 1140.5 314.4 1140.2 313.8 1140 313.1 1139.7 312.5 1139.5 311.9 1139.3 311.3 1139 310.7 1138.8 310.1 1138.5 309.5 1138.3 308.9 1138 308.3 1137.8 307.7 1137.5 307.1 1137.3 306.5 1137 305.9 1136.8 305.3 1136.5 304.8 1136.3 304.2 1136 303.6 1135.8 303 1135.5 302.4 1135.3 301.8 1135 301.3 1134.8 300.7 1134.5 300.1 1134.3 299.5 1134 299 1133.8 298.4 1133.5 297.8 1133.3 297.3 1133 296.7 1132.8 296.1 1132.5 295.6 1132.3 295 1132 294.4 1131.8 293.9 1131.5 293.3 1131.3 292.8 1131 292.2 1130.8 291.6 1130.5 291.1 1130.3 290.5 1130 290 1129.8 289.4 1129.5 288.9 1129.3 288.3 1129 287.8 1128.8 287.3 1128.5 286.7 1128.3 286.2 1128 285.6 1127.8 285.1 1127.5 284.6 1127.3 284 1127 283.5 1126.8 283 1126.5 282.4 1126.3 281.9 1126 281.4 1125.8 280.8 1125.5 280.3 1125.3 279.8 1125 279.3 1124.8 278.7 1124.5 278.2 1124.3 277.7 1124 277.2 1123.8 276.7 1123.5 276.1 1123.3 275.6 1123 275.1 1122.8 274.6 1122.5 274.1 1122.3 273.6 1122 273.1 1121.8 272.6 1121.5 272.1 1121.3 271.6 1121 271 1120.8 270.5 1120.5 270 1120.3 269.5 1120 269 1119.8 268.5 1119.5 268 1119.3 267.5 1119.1 267 1118.8 266.6 1118.6 266.1 1118.3 265.6 1118.1 265.1 1117.8 264.6 1117.6 264.1 1117.3 263.6 1117.1 263.1 1116.9 262.6 1116.6 262.2 1116.4 261.7 1116.1 261.2 1115.9 260.7 1115.6 260.2 1115.4 259.7 1115.2 259.3 1114.9 258.8 1114.7 258.3 1114.4 257.8 1114.2 257.4 1114 256.9 1113.7 256.4 1113.5 255.9 1113.3 255.5 1113 255 1112.8 254.5 1112.5 254.1 1112.3 253.6 1112.1 253.1 1111.8 252.7 1111.6 252.2 1111.4 251.7 1111.1 251.3 1110.9 250.8 1110.7 250.4 1110.4 249.9 1110.2 249.4 1110 249 1109.7 248.5 1109.5 248.1 1109.3 247.6 1109 247.2 1108.8 246.7 1108.6 246.3 1108.4 245.8 1108.1 245.4 1107.9 244.9 1107.7 244.5 1107.4 244 1107.2 243.6 1107 243.1 1106.8 242.7 1106.5 242.2 1106.3 241.8 1106.1 241.4 1105.9 240.9 1105.7 240.5 1105.4 240 1105.2 239.6 1105 239.2 1104.8 238.7 1104.5 238.3 1104.3 237.9 1104.1 237.4 1103.9 237 1103.7 236.6 1103.4 236.1 1103.2 235.7 1103 235.3 1102.8 234.8 1102.6 234.4 1102.3 234 1102.1 233.6 1101.9 233.1 1101.7 232.7 1101.5 232.3 1101.2 231.9 1101 231.4 1100.8 231 1100.6 230.6 1100.4 230.2 1100.2 229.8 1099.9 229.4 1099.7 228.9 1099.5 228.5 1099.3 228.1 1099.1 227.7 1098.9 227.3 1098.6 226.9 1098.4 226.4 1098.2 226 1098 225.6 1097.8 225.2 1097.6 224.8 1097.3 224.4 1097.1 224 1096.9 223.6 1096.7 223.2 1096.5 222.8 1096.3 222.4 1096 222 1095.8 221.6 1095.6 221.2 1095.4 220.8 1095.2 220.4 1095 219.9 1094.8 219.5 1094.5 219.2 1094.3 218.8 1094.1 218.4 1093.9 218 1093.7 217.6 1093.5 217.2 1093.2 216.8 1093 216.4 1092.8 216 1092.6 215.6 1092.4 215.2 1092.2 214.8 1092 214.4 1091.7 214 1091.5 213.6 1091.3 213.2 1091.1 212.9 1090.9 212.5 1090.7 212.1 1090.5 211.7 1090.2 211.3 1090 210.9 1089.8 210.5 1089.6 210.2 1089.4 209.8 1089.2 209.4 1089 209 1088.7 208.6 1088.5 208.3 1088.3 207.9 1088.1 207.5 1087.9 207.1 1087.7 206.7 1087.4 206.4 1087.2 206 1087 205.6 1086.8 205.2 1086.6 204.9 1086.4 204.5 1086.2 204.1 1085.9 203.8 1085.7 203.4 1085.5 203 1085.3 202.6 1085.1 202.3 1084.9 201.9 1084.6 201.5 1084.4 201.2 1084.2 200.8 1084 200.4 1083.8 200.1 1083.6 199.7 1083.3 199.3 1083.1 199 1082.9 198.6 1082.7 198.2 1082.5 197.9 1082.2 197.5 1082 197.2 1081.8 196.8 1081.6 196.4 1081.4 196.1 1081.1 195.7 1080.9 195.4 1080.7 195 1080.5 194.6 1080.3 194.3 1080 193.9 1079.8 193.6 1079.6 193.2 1079.4 192.9 1079.2 192.5 1078.9 192.2 1078.7 191.8 1078.5 191.5 1078.3 191.1 1078.1 190.8 1077.8 190.4 1077.6 190.1 1077.4 189.7 1077.2 189.4 1076.9 189 1076.7 188.7 1076.5 188.3 1076.3 188 1076 187.6 1075.8 187.3 1075.6 186.9 1075.4 186.6 1075.1 186.2 1074.9 185.9 1074.7 185.6 1074.4 185.2 1074.2 184.9 1074 184.5 1073.8 184.2 1073.5 183.9 1073.3 183.5 1073.1 183.2 1072.8 182.8 1072.6 182.5 1072.4 182.2 1072.1 181.8 1071.9 181.5 1071.7 181.2 1071.4 180.8 1071.2 180.5 1071 180.1 1070.7 179.8 1070.5 179.5 1070.2 179.1 1070 178.8 1069.8 178.5 1069.5 178.1 1069.3 177.8 1069 177.5 1068.8 177.2 1068.6 176.8 1068.3 176.5 1068.1 176.2 1067.8 175.8 1067.6 175.5 1067.3 175.2 1067.1 174.9 1066.9 174.5 1066.6 174.2 1066.4 173.9 1066.1 173.6 1065.9 173.2 1065.6 172.9 1065.4 172.6 1065.1 172.3 1064.9 171.9 1064.6 171.6 1064.4 171.3 1064.1 171 1063.9 170.7 1063.6 170.3 1063.4 170 1063.1 169.7 1062.8 169.4 1062.6 169.1 1062.3 168.7 1062.1 168.4 1061.8 168.1 1061.6 167.8 1061.3 167.5 1061 167.2 1060.8 166.9 1060.5 166.5 1060.3 166.2 1060 165.9 1059.8 165.6 1059.5 165.3 1059.2 165 1059 164.7 1058.7 164.4 1058.4 164 1058.2 163.7 1057.9 163.4 1057.7 163.1 1057.4 162.8 1057.1 162.5 1056.9 162.2 1056.6 161.9 1056.3 161.6 1056.1 161.3 1055.8 161 1055.5 160.6 1055.3 160.3 1055 160 1054.7 159.7 1054.4 159.4 1054.2 159.1 1053.9 158.8 1053.6 158.5 1053.4 158.2 1053.1 157.9 1052.8 157.6 1052.6 157.3 1052.3 157 1052 156.7 1051.7 156.4 1051.5 156.1 1051.2 155.8 1050.9 155.5 1050.6 155.2 1050.4 154.9 1050.1 154.6 1049.8 154.3 1049.5 154 1049.3 153.7 1049 153.4 1048.7 153.1 1048.4 152.8 1048.2 152.5 1047.9 152.2 1047.6 151.9 1047.3 151.7 1047.1 151.4 1046.8 151.1 1046.5 150.8 1046.2 150.5 1045.9 150.2 1045.7 149.9 1045.4 149.6 1045.1 149.3 1044.8 149 1044.5 148.7 1044.3 148.4 1044 148.2 1043.7 147.9 1043.4 147.6 1043.1 147.3 1042.9 147 1042.6 146.7 1042.3 146.4 1042 146.1 1041.7 145.9 1041.5 145.6 1041.2 145.3 1040.9 145 1040.6 144.7 1040.3 144.4 1040.1 144.1 1039.8 143.9 1039.5 143.6 1039.2 143.3 1038.9 143 1038.7 142.7 1038.4 142.5 1038.1 142.2 1037.8 141.9 1037.5 141.6 1037.3 141.3 1037 141 1036.7 140.8 1036.4 140.5 1036.2 140.2 1035.9 139.9 1035.6 139.7 1035.3 139.4 1035 139.1 1034.8 138.8 1034.5 138.5 1034.2 138.3 1033.9 138 1033.7 137.7 1033.4 137.4 1033.1 137.2 1032.8 136.9 1032.6 136.6 1032.3 136.3 1032 136.1 1031.7 135.8 1031.4 135.5 1031.2 135.2 1030.9 135 1030.6 134.7 1030.3 134.4 1030 134.2 1029.8 133.9 1029.5 133.6 1029.2 133.3 1028.9 133.1 1028.6 132.8 1028.3 132.5 1028.1 132.3 1027.8 132 1027.5 131.7 1027.2 131.5 1026.9 131.2 1026.6 130.9 1026.3 130.7 1026 130.4 1025.8 130.1 1025.5 129.9 1025.2 129.6 1024.9 129.3 1024.6 129.1 1024.3 128.8 1024 128.5 1023.7 128.3 1023.4 128 1023.1 127.7 1022.8 127.5 1022.5 127.2 1022.2 126.9 1021.9 126.7 1021.6 126.4 1021.3 126.2 1021 125.9 1020.7 125.6 1020.4 125.4 1020.1 125.1 1019.8 124.9 1019.5 124.6 1019.2 124.3 1018.9 124.1 1018.6 123.8 1018.3 123.6 1018 123.3 1017.7 123 1017.4 122.8 1017 122.5 1016.7 122.3 1016.4 122 1016.1 121.8 1015.8 121.5 1015.5 121.2 1015.2 121 1014.8 120.7 1014.5 120.5 1014.2 120.2 1013.9 120 1013.6 119.7 1013.2 119.5 1012.9 119.2 1012.6 119 1012.3 118.7 1011.9 118.4 1011.6 118.2 1011.3 117.9 1010.9 117.7 1010.6 117.4 1010.3 117.2 1009.9 116.9 1009.6 116.7 1009.2 116.4 1008.9 116.2 1008.6 115.9 1008.2 115.7 1007.9 115.4 1007.5 115.2 1007.2 114.9 1006.8 114.7 1006.5 114.4 1006.1 114.2 1005.8 113.9 1005.4 113.7 1005.1 113.4 1004.7 113.2 1004.3 113 1004 112.7 1003.6 112.5 1003.2 112.2 1002.9 112 1002.5 111.7 1002.1 111.5 1001.7 111.2 1001.4 111 1001 110.7 1000.6 110.5 1000.2 110.3 999.9 110 999.5 109.8 999.1 109.5 998.7 109.3 998.3 109 998 108.8 997.6 108.6 997.2 108.3 996.8 108.1 996.4 107.8 996 107.6 995.6 107.4 995.2 107.1 994.8 106.9 994.4 106.6 994 106.4 993.6 106.2 993.2 105.9 992.7 105.7 992.3 105.4 991.9 105.2 991.5 105 991 104.7 990.6 104.5 990.1 104.3 989.7 104 989.2 103.8 988.8 103.5 988.3 103.3 987.8 103.1 987.3 102.8 986.8 102.6 986.3 102.4 985.8 102.1 985.3 101.9 984.8 101.7 984.3 101.4 983.7 101.2 983.1 101 982.6 100.7 982 100.5 981.4 100.3 980.8 100 980.1 99.8 979.5 99.6 978.8 99.3 978.1 99.1 977.4 98.9 976.7 98.6 976 98.4 975.2 98.2 974.4 97.9 973.7 97.7 972.8 97.5 972 97.3 971.2 97 970.3 96.8 969.4 96.6 968.5 96.3 967.5 96.1 966.6 95.9 965.6 95.7 964.6 95.4 963.6 95.2 962.5 95 961.5 94.7 960.4 94.5 959.3 94.3 958.2 94.1 957 93.8 955.8 93.6 954.5 93.4 953.2 93.2 951.9 92.9 950.5 92.7 949 92.5 947.5 92.3 945.9 92 944.2 91.8 942.5 91.6 940.7 91.4 938.8 91.1 936.8 90.9 934.7 90.7 932.4 90.5 929.9 90.3 927.1 90 924 89.8 920.4 89.6 916.2 89.4 911.2 89.1 905 88.9 890 88.7" stroke="#1A1A80" stroke-width="3.0" fill="none" stroke-linejoin="round" marker-start="url(#k_m_navy)" marker-mid="url(#k_m_navy)" marker-end="url(#k_m_navy)"/>
<path d="M1346.9 1614.5 1327.4 1461.4 1325.6 1371.8 1317.6 1308.3 1315.5 1259 1316.3 1218.7 1315.5 1184.7 1313.8 1155.2 1311.3 1129.2 1309.6 1105.9 1306.3 1084.8 1303.9 1065.6 1301.4 1047.9 1299.1 1031.6 1296.7 1016.3 1294.5 1002.1 1292.3 988.7 1290.2 976.1 1288.2 964.1 1286.2 952.8 1284.3 942 1282.4 931.7 1280.6 921.9 1278.9 912.5 1277.2 903.5 1275.5 894.8 1273.8 886.5 1272 878.5 1270.3 870.7 1268.6 863.2 1266.9 856 1265.2 849 1263.6 842.2 1262 835.6 1260.4 829.2 1258.8 823 1257.3 816.9 1255.8 811 1254.4 805.3 1253 799.7 1251.6 794.2 1250.3 788.9 1249 783.7 1247.7 778.6 1246.5 773.7 1245.4 768.8 1244.3 764.1 1243.2 759.4 1242.1 754.9 1241.1 750.4 1240.2 746 1239.2 741.7 1238.3 737.5 1237.4 733.4 1236.6 729.4 1235.7 725.4 1234.9 721.5 1234.1 717.6 1233.3 713.8 1232.5 710.1 1231.8 706.5 1231 702.9 1230.3 699.4 1229.6 695.9 1228.9 692.5 1228.2 689.1 1227.5 685.8 1226.8 682.5 1226.1 679.3 1225.5 676.1 1224.8 673 1224.2 669.9 1223.6 666.8 1223 663.8 1222.3 660.8 1221.7 657.9 1221.1 655 1220.6 652.2 1220 649.4 1219.4 646.6 1218.8 643.8 1218.2 641.1 1217.7 638.5 1217.1 635.8 1216.6 633.2 1216 630.6 1215.5 628.1 1214.9 625.5 1214.4 623 1213.8 620.6 1213.3 618.1 1212.8 615.7 1212.2 613.3 1211.7 611 1211.2 608.6 1210.7 606.3 1210.2 604 1209.6 601.8 1209.1 599.5 1208.6 597.3 1208.1 595.1 1207.6 592.9 1207.1 590.8 1206.6 588.6 1206.1 586.5 1205.6 584.4 1205.1 582.4 1204.6 580.3 1204.2 578.3 1203.7 576.2 1203.2 574.2 1202.7 572.3 1202.2 570.3 1201.8 568.4 1201.3 566.4 1200.8 564.5 1200.4 562.6 1199.9 560.7 1199.4 558.9 1199 557 1198.5 555.2 1198.1 553.4 1197.6 551.6 1197.2 549.8 1196.8 548 1196.3 546.3 1195.9 544.5 1195.4 542.8 1195 541.1 1194.6 539.3 1194.1 537.7 1193.7 536 1193.3 534.3 1192.9 532.7 1192.5 531 1192 529.4 1191.6 527.8 1191.2 526.2 1190.8 524.6 1190.4 523 1190 521.4 1189.6 519.8 1189.2 518.3 1188.8 516.8 1188.4 515.2 1188 513.7 1187.6 512.2 1187.2 510.7 1186.8 509.2 1186.4 507.7 1186 506.3 1185.6 504.8 1185.3 503.4 1184.9 501.9 1184.5 500.5 1184.1 499.1 1183.7 497.7 1183.4 496.3 1183 494.9 1182.6 493.5 1182.3 492.1 1181.9 490.7 1181.5 489.4 1181.2 488 1180.8 486.7 1180.5 485.4 1180.1 484 1179.7 482.7 1179.4 481.4 1179 480.1 1178.7 478.8 1178.3 477.5 1178 476.2 1177.7 475 1177.3 473.7 1177 472.4 1176.6 471.2 1176.3 469.9 1175.9 468.7 1175.6 467.5 1175.3 466.2 1174.9 465 1174.6 463.8 1174.3 462.6 1174 461.4 1173.6 460.2 1173.3 459 1173 457.9 1172.7 456.7 1172.3 455.5 1172 454.4 1171.7 453.2 1171.4 452.1 1171.1 450.9 1170.8 449.8 1170.4 448.7 1170.1 447.5 1169.8 446.4 1169.5 445.3 1169.2 444.2 1168.9 443.1 1168.6 442 1168.3 440.9 1168 439.8 1167.7 438.7 1167.4 437.7 1167.1 436.6 1166.8 435.5 1166.5 434.5 1166.2 433.4 1165.9 432.4 1165.6 431.3 1165.3 430.3 1165.1 429.3 1164.8 428.2 1164.5 427.2 1164.2 426.2 1163.9 425.2 1163.6 424.2 1163.3 423.1 1163.1 422.1 1162.8 421.1 1162.5 420.2 1162.2 419.2 1161.9 418.2 1161.7 417.2 1161.4 416.2 1161.1 415.3 1160.8 414.3 1160.6 413.3 1160.3 412.4 1160 411.4 1159.8 410.5 1159.5 409.5 1159.2 408.6 1158.9 407.6 1158.7 406.7 1158.4 405.8 1158.1 404.8 1157.9 403.9 1157.6 403 1157.4 402.1 1157.1 401.2 1156.8 400.3 1156.6 399.4 1156.3 398.5 1156 397.6 1155.8 396.7 1155.5 395.8 1155.3 394.9 1155 394 1154.8 393.1 1154.5 392.3 1154.2 391.4 1154 390.5 1153.7 389.7 1153.5 388.8 1153.2 388 1153 387.1 1152.7 386.2 1152.5 385.4 1152.2 384.6 1152 383.7 1151.7 382.9 1151.5 382 1151.2 381.2 1151 380.4 1150.7 379.6 1150.5 378.7 1150.2 377.9 1150 377.1 1149.7 376.3 1149.5 375.5 1149.2 374.7 1149 373.9 1148.8 373.1 1148.5 372.3 1148.3 371.5 1148 370.7 1147.8 369.9 1147.5 369.1 1147.3 368.3 1147.1 367.5 1146.8 366.7 1146.6 366 1146.3 365.2 1146.1 364.4 1145.9 363.7 1145.6 362.9 1145.4 362.1 1145.1 361.4 1144.9 360.6 1144.7 359.9 1144.4 359.1 1144.2 358.3 1143.9 357.6 1143.7 356.9 1143.5 356.1 1143.2 355.4 1143 354.6 1142.8 353.9 1142.5 353.2 1142.3 352.4 1142 351.7 1141.8 351 1141.6 350.3 1141.3 349.5 1141.1 348.8 1140.9 348.1 1140.6 347.4 1140.4 346.7 1140.2 346 1139.9 345.3 1139.7 344.6 1139.5 343.9 1139.2 343.2 1139 342.5 1138.8 341.8 1138.5 341.1 1138.3 340.4 1138.1 339.7 1137.8 339 1137.6 338.3 1137.4 337.6 1137.1 337 1136.9 336.3 1136.7 335.6 1136.4 334.9 1136.2 334.3 1136 333.6 1135.7 332.9 1135.5 332.2 1135.3 331.6 1135.1 330.9 1134.8 330.3 1134.6 329.6 1134.4 328.9 1134.1 328.3 1133.9 327.6 1133.7 327 1133.4 326.3 1133.2 325.7 1133 325 1132.7 324.4 1132.5 323.8 1132.3 323.1 1132 322.5 1131.8 321.9 1131.6 321.2 1131.4 320.6 1131.1 320 1130.9 319.3 1130.7 318.7 1130.4 318.1 1130.2 317.5 1130 316.8 1129.7 316.2 1129.5 315.6 1129.3 315 1129 314.4 1128.8 313.8 1128.6 313.1 1128.3 312.5 1128.1 311.9 1127.8 311.3 1127.6 310.7 1127.4 310.1 1127.1 309.5 1126.9 308.9 1126.7 308.3 1126.4 307.7 1126.2 307.1 1126 306.5 1125.7 305.9 1125.5 305.3 1125.2 304.8 1125 304.2 1124.8 303.6 1124.5 303 1124.3 302.4 1124 301.8 1123.8 301.3 1123.6 300.7 1123.3 300.1 1123.1 299.5 1122.8 299 1122.6 298.4 1122.4 297.8 1122.1 297.3 1121.9 296.7 1121.6 296.1 1121.4 295.6 1121.2 295 1120.9 294.4 1120.7 293.9 1120.4 293.3 1120.2 292.8 1120 292.2 1119.7 291.6 1119.5 291.1 1119.2 290.5 1119 290 1118.8 289.4 1118.5 288.9 1118.3 288.3 1118 287.8 1117.8 287.3 1117.6 286.7 1117.3 286.2 1117.1 285.6 1116.8 285.1 1116.6 284.6 1116.4 284 1116.1 283.5 1115.9 283 1115.6 282.4 1115.4 281.9 1115.2 281.4 1114.9 280.8 1114.7 280.3 1114.5 279.8 1114.2 279.3 1114 278.7 1113.7 278.2 1113.5 277.7 1113.3 277.2 1113 276.7 1112.8 276.1 1112.6 275.6 1112.3 275.1 1112.1 274.6 1111.8 274.1 1111.6 273.6 1111.4 273.1 1111.1 272.6 1110.9 272.1 1110.7 271.6 1110.4 271 1110.2 270.5 1110 270 1109.7 269.5 1109.5 269 1109.3 268.5 1109 268 1108.8 267.5 1108.6 267 1108.3 266.6 1108.1 266.1 1107.9 265.6 1107.7 265.1 1107.4 264.6 1107.2 264.1 1107 263.6 1106.7 263.1 1106.5 262.6 1106.3 262.2 1106.1 261.7 1105.8 261.2 1105.6 260.7 1105.4 260.2 1105.1 259.7 1104.9 259.3 1104.7 258.8 1104.5 258.3 1104.3 257.8 1104 257.4 1103.8 256.9 1103.6 256.4 1103.4 255.9 1103.1 255.5 1102.9 255 1102.7 254.5 1102.5 254.1 1102.3 253.6 1102 253.1 1101.8 252.7 1101.6 252.2 1101.4 251.7 1101.2 251.3 1101 250.8 1100.7 250.4 1100.5 249.9 1100.3 249.4 1100.1 249 1099.9 248.5 1099.7 248.1 1099.5 247.6 1099.2 247.2 1099 246.7 1098.8 246.3 1098.6 245.8 1098.4 245.4 1098.2 244.9 1098 244.5 1097.8 244 1097.6 243.6 1097.4 243.1 1097.2 242.7 1097 242.2 1096.8 241.8 1096.6 241.4 1096.4 240.9 1096.2 240.5 1096 240 1095.8 239.6 1095.6 239.2 1095.4 238.7 1095.2 238.3 1095 237.9 1094.8 237.4 1094.6 237 1094.4 236.6 1094.2 236.1 1094 235.7 1093.8 235.3 1093.6 234.8 1093.4 234.4 1093.2 234 1093 233.6 1092.8 233.1 1092.6 232.7 1092.4 232.3 1092.3 231.9 1092.1 231.4 1091.9 231 1091.7 230.6 1091.5 230.2 1091.3 229.8 1091.1 229.4 1090.9 228.9 1090.7 228.5 1090.6 228.1 1090.4 227.7 1090.2 227.3 1090 226.9 1089.8 226.4 1089.6 226 1089.4 225.6 1089.3 225.2 1089.1 224.8 1088.9 224.4 1088.7 224 1088.5 223.6 1088.3 223.2 1088.2 222.8 1088 222.4 1087.8 222 1087.6 221.6 1087.4 221.2 1087.3 220.8 1087.1 220.4 1086.9 219.9 1086.7 219.5 1086.5 219.2 1086.3 218.8 1086.2 218.4 1086 218 1085.8 217.6 1085.6 217.2 1085.4 216.8 1085.3 216.4 1085.1 216 1084.9 215.6 1084.7 215.2 1084.5 214.8 1084.4 214.4 1084.2 214 1084 213.6 1083.8 213.2 1083.6 212.9 1083.5 212.5 1083.3 212.1 1083.1 211.7 1082.9 211.3 1082.7 210.9 1082.5 210.5 1082.4 210.2 1082.2 209.8 1082 209.4 1081.8 209 1081.6 208.6 1081.5 208.3 1081.3 207.9 1081.1 207.5 1080.9 207.1 1080.7 206.7 1080.5 206.4 1080.4 206 1080.2 205.6 1080 205.2 1079.8 204.9 1079.6 204.5 1079.4 204.1 1079.3 203.8 1079.1 203.4 1078.9 203 1078.7 202.6 1078.5 202.3 1078.3 201.9 1078.1 201.5 1078 201.2 1077.8 200.8 1077.6 200.4 1077.4 200.1 1077.2 199.7 1077 199.3 1076.8 199 1076.6 198.6 1076.4 198.2 1076.2 197.9 1076.1 197.5 1075.9 197.2 1075.7 196.8 1075.5 196.4 1075.3 196.1 1075.1 195.7 1074.9 195.4 1074.7 195 1074.5 194.6 1074.3 194.3 1074.1 193.9 1073.9 193.6 1073.7 193.2 1073.5 192.9 1073.3 192.5 1073.1 192.2 1072.9 191.8 1072.7 191.5 1072.5 191.1 1072.3 190.8 1072.1 190.4 1071.9 190.1 1071.7 189.7 1071.5 189.4 1071.3 189 1071.1 188.7 1070.8 188.3 1070.6 188 1070.4 187.6 1070.2 187.3 1070 186.9 1069.8 186.6 1069.6 186.2 1069.3 185.9 1069.1 185.6 1068.9 185.2 1068.7 184.9 1068.5 184.5 1068.2 184.2 1068 183.9 1067.8 183.5 1067.6 183.2 1067.3 182.8 1067.1 182.5 1066.9 182.2 1066.7 181.8 1066.4 181.5 1066.2 181.2 1066 180.8 1065.7 180.5 1065.5 180.1 1065.3 179.8 1065 179.5 1064.8 179.1 1064.5 178.8 1064.3 178.5 1064.1 178.1 1063.8 177.8 1063.6 177.5 1063.3 177.2 1063.1 176.8 1062.8 176.5 1062.6 176.2 1062.3 175.8 1062.1 175.5 1061.8 175.2 1061.6 174.9 1061.3 174.5 1061.1 174.2 1060.8 173.9 1060.6 173.6 1060.3 173.2 1060 172.9 1059.8 172.6 1059.5 172.3 1059.2 171.9 1059 171.6 1058.7 171.3 1058.5 171 1058.2 170.7 1057.9 170.3 1057.7 170 1057.4 169.7 1057.1 169.4 1056.8 169.1 1056.6 168.7 1056.3 168.4 1056 168.1 1055.7 167.8 1055.5 167.5 1055.2 167.2 1054.9 166.9 1054.6 166.5 1054.4 166.2 1054.1 165.9 1053.8 165.6 1053.5 165.3 1053.2 165 1052.9 164.7 1052.7 164.4 1052.4 164 1052.1 163.7 1051.8 163.4 1051.5 163.1 1051.2 162.8 1050.9 162.5 1050.6 162.2 1050.3 161.9 1050 161.6 1049.8 161.3 1049.5 161 1049.2 160.6 1048.9 160.3 1048.6 160 1048.3 159.7 1048 159.4 1047.7 159.1 1047.4 158.8 1047.1 158.5 1046.8 158.2 1046.5 157.9 1046.2 157.6 1045.9 157.3 1045.6 157 1045.3 156.7 1044.9 156.4 1044.6 156.1 1044.3 155.8 1044 155.5 1043.7 155.2 1043.4 154.9 1043.1 154.6 1042.8 154.3 1042.5 154 1042.2 153.7 1041.9 153.4 1041.5 153.1 1041.2 152.8 1040.9 152.5 1040.6 152.2 1040.3 151.9 1040 151.7 1039.7 151.4 1039.3 151.1 1039 150.8 1038.7 150.5 1038.4 150.2 1038.1 149.9 1037.7 149.6 1037.4 149.3 1037.1 149 1036.8 148.7 1036.5 148.4 1036.2 148.2 1035.8 147.9 1035.5 147.6 1035.2 147.3 1034.9 147 1034.5 146.7 1034.2 146.4 1033.9 146.1 1033.6 145.9 1033.3 145.6 1032.9 145.3 1032.6 145 1032.3 144.7 1032 144.4 1031.6 144.1 1031.3 143.9 1031 143.6 1030.7 143.3 1030.3 143 1030 142.7 1029.7 142.5 1029.4 142.2 1029.1 141.9 1028.7 141.6 1028.4 141.3 1028.1 141 1027.8 140.8 1027.4 140.5 1027.1 140.2 1026.8 139.9 1026.5 139.7 1026.2 139.4 1025.8 139.1 1025.5 138.8 1025.2 138.5 1024.9 138.3 1024.6 138 1024.3 137.7 1023.9 137.4 1023.6 137.2 1023.3 136.9 1023 136.6 1022.7 136.3 1022.3 136.1 1022 135.8 1021.7 135.5 1021.4 135.2 1021.1 135 1020.7 134.7 1020.4 134.4 1020.1 134.2 1019.8 133.9 1019.5 133.6 1019.1 133.3 1018.8 133.1 1018.5 132.8 1018.2 132.5 1017.8 132.3 1017.5 132 1017.2 131.7 1016.9 131.5 1016.5 131.2 1016.2 130.9 1015.9 130.7 1015.6 130.4 1015.2 130.1 1014.9 129.9 1014.6 129.6 1014.3 129.3 1013.9 129.1 1013.6 128.8 1013.3 128.5 1012.9 128.3 1012.6 128 1012.3 127.7 1011.9 127.5 1011.6 127.2 1011.2 126.9 1010.9 126.7 1010.6 126.4 1010.2 126.2 1009.9 125.9 1009.5 125.6 1009.2 125.4 1008.8 125.1 1008.5 124.9 1008.1 124.6 1007.8 124.3 1007.4 124.1 1007.1 123.8 1006.7 123.6 1006.4 123.3 1006 123 1005.6 122.8 1005.3 122.5 1004.9 122.3 1004.5 122 1004.2 121.8 1003.8 121.5 1003.4 121.2 1003.1 121 1002.7 120.7 1002.3 120.5 1001.9 120.2 1001.5 120 1001.1 119.7 1000.8 119.5 1000.4 119.2 1000 119 999.6 118.7 999.2 118.4 998.8 118.2 998.4 117.9 997.9 117.7 997.5 117.4 997.1 117.2 996.7 116.9 996.3 116.7 995.8 116.4 995.4 116.2 995 115.9 994.5 115.7 994.1 115.4 993.6 115.2 993.2 114.9 992.7 114.7 992.2 114.4 991.8 114.2 991.3 113.9 990.8 113.7 990.3 113.4 989.8 113.2 989.3 113 988.8 112.7 988.3 112.5 987.8 112.2 987.3 112 986.8 111.7 986.2 111.5 985.7 111.2 985.1 111 984.6 110.7 984 110.5 983.5 110.3 982.9 110 982.3 109.8 981.7 109.5 981.1 109.3 980.5 109 979.9 108.8 979.3 108.6 978.7 108.3 978.1 108.1 977.5 107.8 976.8 107.6 976.2 107.4 975.5 107.1 974.9 106.9 974.2 106.6 973.5 106.4 972.8 106.2 972.1 105.9 971.4 105.7 970.7 105.4 970 105.2 969.2 105 968.5 104.7 967.7 104.5 966.9 104.3 966.2 104 965.4 103.8 964.6 103.5 963.7 103.3 962.9 103.1 962.1 102.8 961.2 102.6 960.3 102.4 959.5 102.1 958.6 101.9 957.6 101.7 956.7 101.4 955.8 101.2 954.8 101 953.8 100.7 952.8 100.5 951.8 100.3 950.7 100 949.7 99.8 948.6 99.6 947.4 99.3 946.3 99.1 945.1 98.9 943.9 98.6 942.6 98.4 941.3 98.2 940 97.9 938.6 97.7 937.3 97.5 935.8 97.3 934.4 97 932.9 96.8 931.3 96.6 929.8 96.3 928.2 96.1 926.5 95.9 924.8 95.7 923.1 95.4 921.4 95.2 919.6 95 917.8 94.7 916 94.5 914.2 94.3 912.3 94.1 910.1 93.8 907.8 93.6 905.4 93.4 902.7 93.2 900 92.9 897.1 92.7 894.1 92.5 891 92.3 888 92 885 91.8 882.3 91.6 880 91.4 878.3 91.1 877.6 90.9 877.6 90.7 877.7 90.5 877.7 90.3 877.9 90 878.2 89.8 878.9 89.6 880.2 89.4 883.1 89.1 890 88.9 856.7 88.7" stroke="#00CC33" stroke-width="3.0" fill="none" stroke-linejoin="round" marker-start="url(#k_m_green)" marker-mid="url(#k_m_green)" marker-end="url(#k_m_green)"/>
<path d="M1334.3 1614.5 1317.3 1461.4 1312.1 1371.8 1301.9 1308.3 1300.3 1259 1298.6 1218.7 1295.2 1184.7 1292.7 1155.2 1287.6 1129.2 1286 1105.9 1304.4 1084.8 1301.1 1065.6 1298 1047.9 1295 1031.6 1292.1 1016.3 1289.4 1002.1 1286.9 988.7 1284.4 976.1 1282 964.1 1279.8 952.8 1277.6 942 1275.5 931.7 1273.4 921.9 1271.5 912.5 1269.6 903.5 1267.7 894.8 1265.8 886.5 1263.9 878.5 1262.1 870.7 1260.2 863.2 1258.4 856 1256.7 849 1254.9 842.2 1253.3 835.6 1251.6 829.2 1250.1 823 1248.5 816.9 1247 811 1245.6 805.3 1244.2 799.7 1242.9 794.2 1241.6 788.9 1240.4 783.7 1239.2 778.6 1238.1 773.7 1237 768.8 1236 764.1 1235.1 759.4 1234.1 754.9 1233.3 750.4 1232.4 746 1231.6 741.7 1230.9 737.5 1230.1 733.4 1229.4 729.4 1228.8 725.4 1228.1 721.5 1227.5 717.6 1226.9 713.8 1226.3 710.1 1225.7 706.5 1225.2 702.9 1224.7 699.4 1224.1 695.9 1223.6 692.5 1223.1 689.1 1222.6 685.8 1222.1 682.5 1221.7 679.3 1221.2 676.1 1220.7 673 1220.3 669.9 1219.8 666.8 1219.4 663.8 1219 660.8 1218.5 657.9 1218.1 655 1217.7 652.2 1217.2 649.4 1216.8 646.6 1216.4 643.8 1215.9 641.1 1215.5 638.5 1215.1 635.8 1214.7 633.2 1214.3 630.6 1213.8 628.1 1213.4 625.5 1213 623 1212.6 620.6 1212.1 618.1 1211.7 615.7 1211.3 613.3 1210.8 611 1210.4 608.6 1210 606.3 1209.5 604 1209.1 601.8 1208.6 599.5 1208.2 597.3 1207.7 595.1 1207.3 592.9 1206.8 590.8 1206.4 588.6 1205.9 586.5 1205.5 584.4 1205 582.4 1204.6 580.3 1204.1 578.3 1203.6 576.2 1203.2 574.2 1202.7 572.3 1202.2 570.3 1201.8 568.4 1201.3 566.4 1200.9 564.5 1200.4 562.6 1199.9 560.7 1199.5 558.9 1199 557 1198.5 555.2 1198.1 553.4 1197.6 551.6 1197.2 549.8 1196.7 548 1196.3 546.3 1195.8 544.5 1195.3 542.8 1194.9 541.1 1194.4 539.3 1194 537.7 1193.5 536 1193.1 534.3 1192.6 532.7 1192.2 531 1191.7 529.4 1191.3 527.8 1190.8 526.2 1190.4 524.6 1190 523 1189.5 521.4 1189.1 519.8 1188.6 518.3 1188.2 516.8 1187.8 515.2 1187.3 513.7 1186.9 512.2 1186.5 510.7 1186.1 509.2 1185.6 507.7 1185.2 506.3 1184.8 504.8 1184.4 503.4 1184 501.9 1183.5 500.5 1183.1 499.1 1182.7 497.7 1182.3 496.3 1181.9 494.9 1181.5 493.5 1181.1 492.1 1180.7 490.7 1180.3 489.4 1179.9 488 1179.5 486.7 1179.1 485.4 1178.7 484 1178.3 482.7 1177.9 481.4 1177.5 480.1 1177.2 478.8 1176.8 477.5 1176.4 476.2 1176 475 1175.6 473.7 1175.3 472.4 1174.9 471.2 1174.5 469.9 1174.1 468.7 1173.8 467.5 1173.4 466.2 1173.1 465 1172.7 463.8 1172.3 462.6 1172 461.4 1171.6 460.2 1171.3 459 1170.9 457.9 1170.6 456.7 1170.2 455.5 1169.9 454.4 1169.5 453.2 1169.2 452.1 1168.9 450.9 1168.5 449.8 1168.2 448.7 1167.9 447.5 1167.5 446.4 1167.2 445.3 1166.9 444.2 1166.6 443.1 1166.2 442 1165.9 440.9 1165.6 439.8 1165.3 438.7 1165 437.7 1164.7 436.6 1164.3 435.5 1164 434.5 1163.7 433.4 1163.4 432.4 1163.1 431.3 1162.8 430.3 1162.5 429.3 1162.2 428.2 1161.9 427.2 1161.6 426.2 1161.3 425.2 1161 424.2 1160.7 423.1 1160.4 422.1 1160.1 421.1 1159.8 420.2 1159.5 419.2 1159.2 418.2 1158.9 417.2 1158.6 416.2 1158.3 415.3 1158 414.3 1157.7 413.3 1157.4 412.4 1157.1 411.4 1156.8 410.5 1156.6 409.5 1156.3 408.6 1156 407.6 1155.7 406.7 1155.4 405.8 1155.1 404.8 1154.8 403.9 1154.6 403 1154.3 402.1 1154 401.2 1153.7 400.3 1153.4 399.4 1153.2 398.5 1152.9 397.6 1152.6 396.7 1152.3 395.8 1152.1 394.9 1151.8 394 1151.5 393.1 1151.2 392.3 1151 391.4 1150.7 390.5 1150.4 389.7 1150.1 388.8 1149.9 388 1149.6 387.1 1149.3 386.2 1149.1 385.4 1148.8 384.6 1148.5 383.7 1148.3 382.9 1148 382 1147.7 381.2 1147.5 380.4 1147.2 379.6 1146.9 378.7 1146.7 377.9 1146.4 377.1 1146.1 376.3 1145.9 375.5 1145.6 374.7 1145.4 373.9 1145.1 373.1 1144.8 372.3 1144.6 371.5 1144.3 370.7 1144 369.9 1143.8 369.1 1143.5 368.3 1143.3 367.5 1143 366.7 1142.7 366 1142.5 365.2 1142.2 364.4 1142 363.7 1141.7 362.9 1141.5 362.1 1141.2 361.4 1140.9 360.6 1140.7 359.9 1140.4 359.1 1140.2 358.3 1139.9 357.6 1139.7 356.9 1139.4 356.1 1139.2 355.4 1138.9 354.6 1138.7 353.9 1138.4 353.2 1138.1 352.4 1137.9 351.7 1137.6 351 1137.4 350.3 1137.1 349.5 1136.9 348.8 1136.6 348.1 1136.4 347.4 1136.1 346.7 1135.9 346 1135.6 345.3 1135.4 344.6 1135.1 343.9 1134.9 343.2 1134.6 342.5 1134.4 341.8 1134.1 341.1 1133.9 340.4 1133.6 339.7 1133.4 339 1133.1 338.3 1132.9 337.6 1132.6 337 1132.4 336.3 1132.1 335.6 1131.9 334.9 1131.6 334.3 1131.4 333.6 1131.1 332.9 1130.9 332.2 1130.6 331.6 1130.4 330.9 1130.1 330.3 1129.9 329.6 1129.6 328.9 1129.4 328.3 1129.1 327.6 1128.9 327 1128.6 326.3 1128.4 325.7 1128.1 325 1127.9 324.4 1127.6 323.8 1127.4 323.1 1127.1 322.5 1126.9 321.9 1126.7 321.2 1126.4 320.6 1126.2 320 1125.9 319.3 1125.7 318.7 1125.4 318.1 1125.2 317.5 1124.9 316.8 1124.7 316.2 1124.4 315.6 1124.2 315 1123.9 314.4 1123.6 313.8 1123.4 313.1 1123.1 312.5 1122.9 311.9 1122.6 311.3 1122.4 310.7 1122.1 310.1 1121.9 309.5 1121.6 308.9 1121.4 308.3 1121.1 307.7 1120.9 307.1 1120.6 306.5 1120.3 305.9 1120.1 305.3 1119.8 304.8 1119.6 304.2 1119.3 303.6 1119.1 303 1118.8 302.4 1118.5 301.8 1118.3 301.3 1118 300.7 1117.8 300.1 1117.5 299.5 1117.3 299 1117 298.4 1116.7 297.8 1116.5 297.3 1116.2 296.7 1116 296.1 1115.7 295.6 1115.5 295 1115.2 294.4 1114.9 293.9 1114.7 293.3 1114.4 292.8 1114.2 292.2 1113.9 291.6 1113.6 291.1 1113.4 290.5 1113.1 290 1112.9 289.4 1112.6 288.9 1112.4 288.3 1112.1 287.8 1111.8 287.3 1111.6 286.7 1111.3 286.2 1111.1 285.6 1110.8 285.1 1110.6 284.6 1110.3 284 1110 283.5 1109.8 283 1109.5 282.4 1109.3 281.9 1109 281.4 1108.8 280.8 1108.5 280.3 1108.2 279.8 1108 279.3 1107.7 278.7 1107.5 278.2 1107.2 277.7 1107 277.2 1106.7 276.7 1106.5 276.1 1106.2 275.6 1105.9 275.1 1105.7 274.6 1105.4 274.1 1105.2 273.6 1104.9 273.1 1104.7 272.6 1104.4 272.1 1104.2 271.6 1103.9 271 1103.7 270.5 1103.4 270 1103.2 269.5 1102.9 269 1102.7 268.5 1102.4 268 1102.2 267.5 1101.9 267 1101.6 266.6 1101.4 266.1 1101.2 265.6 1100.9 265.1 1100.7 264.6 1100.4 264.1 1100.2 263.6 1099.9 263.1 1099.7 262.6 1099.4 262.2 1099.2 261.7 1098.9 261.2 1098.7 260.7 1098.4 260.2 1098.2 259.7 1097.9 259.3 1097.7 258.8 1097.5 258.3 1097.2 257.8 1097 257.4 1096.7 256.9 1096.5 256.4 1096.2 255.9 1096 255.5 1095.8 255 1095.5 254.5 1095.3 254.1 1095 253.6 1094.8 253.1 1094.6 252.7 1094.3 252.2 1094.1 251.7 1093.9 251.3 1093.6 250.8 1093.4 250.4 1093.2 249.9 1092.9 249.4 1092.7 249 1092.5 248.5 1092.2 248.1 1092 247.6 1091.8 247.2 1091.5 246.7 1091.3 246.3 1091.1 245.8 1090.8 245.4 1090.6 244.9 1090.4 244.5 1090.2 244 1089.9 243.6 1089.7 243.1 1089.5 242.7 1089.3 242.2 1089 241.8 1088.8 241.4 1088.6 240.9 1088.4 240.5 1088.1 240 1087.9 239.6 1087.7 239.2 1087.5 238.7 1087.3 238.3 1087 237.9 1086.8 237.4 1086.6 237 1086.4 236.6 1086.2 236.1 1085.9 235.7 1085.7 235.3 1085.5 234.8 1085.3 234.4 1085.1 234 1084.8 233.6 1084.6 233.1 1084.4 232.7 1084.2 232.3 1084 231.9 1083.8 231.4 1083.5 231 1083.3 230.6 1083.1 230.2 1082.9 229.8 1082.7 229.4 1082.5 228.9 1082.2 228.5 1082 228.1 1081.8 227.7 1081.6 227.3 1081.4 226.9 1081.2 226.4 1080.9 226 1080.7 225.6 1080.5 225.2 1080.3 224.8 1080.1 224.4 1079.9 224 1079.7 223.6 1079.5 223.2 1079.2 222.8 1079 222.4 1078.8 222 1078.6 221.6 1078.4 221.2 1078.2 220.8 1078 220.4 1077.7 219.9 1077.5 219.5 1077.3 219.2 1077.1 218.8 1076.9 218.4 1076.7 218 1076.5 217.6 1076.3 217.2 1076.1 216.8 1075.8 216.4 1075.6 216 1075.4 215.6 1075.2 215.2 1075 214.8 1074.8 214.4 1074.6 214 1074.4 213.6 1074.2 213.2 1073.9 212.9 1073.7 212.5 1073.5 212.1 1073.3 211.7 1073.1 211.3 1072.9 210.9 1072.7 210.5 1072.5 210.2 1072.3 209.8 1072 209.4 1071.8 209 1071.6 208.6 1071.4 208.3 1071.2 207.9 1071 207.5 1070.8 207.1 1070.6 206.7 1070.4 206.4 1070.1 206 1069.9 205.6 1069.7 205.2 1069.5 204.9 1069.3 204.5 1069.1 204.1 1068.9 203.8 1068.7 203.4 1068.5 203 1068.3 202.6 1068 202.3 1067.8 201.9 1067.6 201.5 1067.4 201.2 1067.2 200.8 1067 200.4 1066.8 200.1 1066.6 199.7 1066.4 199.3 1066.1 199 1065.9 198.6 1065.7 198.2 1065.5 197.9 1065.3 197.5 1065.1 197.2 1064.9 196.8 1064.7 196.4 1064.4 196.1 1064.2 195.7 1064 195.4 1063.8 195 1063.6 194.6 1063.4 194.3 1063.2 193.9 1063 193.6 1062.7 193.2 1062.5 192.9 1062.3 192.5 1062.1 192.2 1061.9 191.8 1061.7 191.5 1061.5 191.1 1061.2 190.8 1061 190.4 1060.8 190.1 1060.6 189.7 1060.4 189.4 1060.2 189 1060 188.7 1059.7 188.3 1059.5 188 1059.3 187.6 1059.1 187.3 1058.9 186.9 1058.7 186.6 1058.4 186.2 1058.2 185.9 1058 185.6 1057.8 185.2 1057.6 184.9 1057.3 184.5 1057.1 184.2 1056.9 183.9 1056.7 183.5 1056.5 183.2 1056.2 182.8 1056 182.5 1055.8 182.2 1055.6 181.8 1055.4 181.5 1055.1 181.2 1054.9 180.8 1054.7 180.5 1054.5 180.1 1054.3 179.8 1054 179.5 1053.8 179.1 1053.6 178.8 1053.4 178.5 1053.1 178.1 1052.9 177.8 1052.7 177.5 1052.5 177.2 1052.2 176.8 1052 176.5 1051.8 176.2 1051.6 175.8 1051.3 175.5 1051.1 175.2 1050.9 174.9 1050.7 174.5 1050.4 174.2 1050.2 173.9 1050 173.6 1049.7 173.2 1049.5 172.9 1049.3 172.6 1049.1 172.3 1048.8 171.9 1048.6 171.6 1048.4 171.3 1048.1 171 1047.9 170.7 1047.7 170.3 1047.4 170 1047.2 169.7 1047 169.4 1046.7 169.1 1046.5 168.7 1046.3 168.4 1046 168.1 1045.8 167.8 1045.6 167.5 1045.3 167.2 1045.1 166.9 1044.9 166.5 1044.6 166.2 1044.4 165.9 1044.2 165.6 1043.9 165.3 1043.7 165 1043.5 164.7 1043.2 164.4 1043 164 1042.7 163.7 1042.5 163.4 1042.3 163.1 1042 162.8 1041.8 162.5 1041.5 162.2 1041.3 161.9 1041.1 161.6 1040.8 161.3 1040.6 161 1040.3 160.6 1040.1 160.3 1039.8 160 1039.6 159.7 1039.4 159.4 1039.1 159.1 1038.9 158.8 1038.6 158.5 1038.4 158.2 1038.1 157.9 1037.9 157.6 1037.6 157.3 1037.4 157 1037.2 156.7 1036.9 156.4 1036.7 156.1 1036.4 155.8 1036.2 155.5 1035.9 155.2 1035.7 154.9 1035.4 154.6 1035.2 154.3 1034.9 154 1034.7 153.7 1034.4 153.4 1034.2 153.1 1033.9 152.8 1033.6 152.5 1033.4 152.2 1033.1 151.9 1032.9 151.7 1032.6 151.4 1032.4 151.1 1032.1 150.8 1031.9 150.5 1031.6 150.2 1031.3 149.9 1031.1 149.6 1030.8 149.3 1030.6 149 1030.3 148.7 1030.1 148.4 1029.8 148.2 1029.5 147.9 1029.3 147.6 1029 147.3 1028.8 147 1028.5 146.7 1028.2 146.4 1028 146.1 1027.7 145.9 1027.4 145.6 1027.2 145.3 1026.9 145 1026.6 144.7 1026.4 144.4 1026.1 144.1 1025.8 143.9 1025.6 143.6 1025.3 143.3 1025 143 1024.8 142.7 1024.5 142.5 1024.2 142.2 1024 141.9 1023.7 141.6 1023.4 141.3 1023.1 141 1022.9 140.8 1022.6 140.5 1022.3 140.2 1022 139.9 1021.8 139.7 1021.5 139.4 1021.2 139.1 1020.9 138.8 1020.7 138.5 1020.4 138.3 1020.1 138 1019.8 137.7 1019.5 137.4 1019.3 137.2 1019 136.9 1018.7 136.6 1018.4 136.3 1018.1 136.1 1017.9 135.8 1017.6 135.5 1017.3 135.2 1017 135 1016.7 134.7 1016.4 134.4 1016.1 134.2 1015.9 133.9 1015.6 133.6 1015.3 133.3 1015 133.1 1014.7 132.8 1014.4 132.5 1014.1 132.3 1013.8 132 1013.5 131.7 1013.3 131.5 1013 131.2 1012.7 130.9 1012.4 130.7 1012.1 130.4 1011.8 130.1 1011.5 129.9 1011.2 129.6 1010.9 129.3 1010.6 129.1 1010.3 128.8 1010 128.5 1009.7 128.3 1009.4 128 1009.1 127.7 1008.8 127.5 1008.4 127.2 1008.1 126.9 1007.8 126.7 1007.5 126.4 1007.2 126.2 1006.9 125.9 1006.6 125.6 1006.3 125.4 1005.9 125.1 1005.6 124.9 1005.3 124.6 1005 124.3 1004.7 124.1 1004.3 123.8 1004 123.6 1003.7 123.3 1003.3 123 1003 122.8 1002.7 122.5 1002.3 122.3 1002 122 1001.7 121.8 1001.3 121.5 1001 121.2 1000.6 121 1000.3 120.7 999.9 120.5 999.6 120.2 999.2 120 998.9 119.7 998.5 119.5 998.2 119.2 997.8 119 997.4 118.7 997.1 118.4 996.7 118.2 996.3 117.9 995.9 117.7 995.6 117.4 995.2 117.2 994.8 116.9 994.4 116.7 994 116.4 993.6 116.2 993.2 115.9 992.8 115.7 992.4 115.4 992 115.2 991.6 114.9 991.2 114.7 990.8 114.4 990.3 114.2 989.9 113.9 989.5 113.7 989.1 113.4 988.6 113.2 988.2 113 987.7 112.7 987.3 112.5 986.8 112.2 986.3 112 985.9 111.7 985.4 111.5 984.9 111.2 984.4 111 983.9 110.7 983.5 110.5 983 110.3 982.5 110 982 109.8 981.4 109.5 980.9 109.3 980.4 109 979.9 108.8 979.3 108.6 978.8 108.3 978.3 108.1 977.7 107.8 977.2 107.6 976.6 107.4 976 107.1 975.4 106.9 974.9 106.6 974.3 106.4 973.7 106.2 973.1 105.9 972.5 105.7 971.8 105.4 971.2 105.2 970.6 105 969.9 104.7 969.3 104.5 968.6 104.3 967.9 104 967.2 103.8 966.5 103.5 965.8 103.3 965.1 103.1 964.4 102.8 963.7 102.6 962.9 102.4 962.1 102.1 961.4 101.9 960.6 101.7 959.8 101.4 958.9 101.2 958.1 101 957.3 100.7 956.4 100.5 955.5 100.3 954.6 100 953.7 99.8 952.7 99.6 951.7 99.3 950.7 99.1 949.7 98.9 948.6 98.6 947.6 98.4 946.4 98.2 945.3 97.9 944.1 97.7 942.9 97.5 941.7 97.3 940.4 97 939.1 96.8 937.7 96.6 936.4 96.3 935 96.1 933.6 95.9 932.1 95.7 930.6 95.4 929.1 95.2 927.6 95 926 94.7 924.5 94.5 922.9 94.3 921.2 94.1 919.5 93.8 917.6 93.6 915.7 93.4 913.7 93.2 911.5 92.9 909.3 92.7 907 92.5 904.7 92.3 902.3 92 899.9 91.8 897.5 91.6 895.1 91.4 893 91.1 891.1 90.9 889.4 90.7 887.5 90.5 885.5 90.3 883.3 90 881 89.8 878.5 89.6 875.9 89.4 873.4 89.1 872 88.9 856.7 88.7" stroke="#B066DA" stroke-width="3.0" fill="none" stroke-linejoin="round" marker-start="url(#k_m_purple)" marker-mid="url(#k_m_purple)" marker-end="url(#k_m_purple)"/>
<path d="M1306.7 1614.5 1299.1 1461.4 1293.7 1371.8 1288.3 1308.3 1283.5 1259 1275 1218.7 1274 1184.7 1273.2 1155.2 1261.4 1129.2 1260 1105.9 1272.2 1084.8 1268.2 1065.6 1264.6 1047.9 1261.3 1031.6 1258.1 1016.3 1255.2 1002.1 1252.4 988.7 1249.8 976.1 1247.4 964.1 1245 952.8 1242.8 942 1240.7 931.7 1238.7 921.9 1236.7 912.5 1234.8 903.5 1233 894.8 1231.3 886.5 1229.6 878.5 1227.9 870.7 1226.3 863.2 1224.7 856 1223.2 849 1221.8 842.2 1220.3 835.6 1219 829.2 1217.6 823 1216.3 816.9 1215.1 811 1213.9 805.3 1212.7 799.7 1211.5 794.2 1210.4 788.9 1209.3 783.7 1208.3 778.6 1207.3 773.7 1206.3 768.8 1205.3 764.1 1204.4 759.4 1203.5 754.9 1202.6 750.4 1201.8 746 1201 741.7 1200.2 737.5 1199.4 733.4 1198.7 729.4 1197.9 725.4 1197.2 721.5 1196.5 717.6 1195.9 713.8 1195.2 710.1 1194.6 706.5 1194 702.9 1193.3 699.4 1192.7 695.9 1192.1 692.5 1191.6 689.1 1191 685.8 1190.4 682.5 1189.9 679.3 1189.3 676.1 1188.8 673 1188.3 669.9 1187.7 666.8 1187.2 663.8 1186.7 660.8 1186.2 657.9 1185.7 655 1185.2 652.2 1184.7 649.4 1184.2 646.6 1183.7 643.8 1183.2 641.1 1182.7 638.5 1182.2 635.8 1181.7 633.2 1181.2 630.6 1180.7 628.1 1180.2 625.5 1179.8 623 1179.3 620.6 1178.8 618.1 1178.3 615.7 1177.8 613.3 1177.3 611 1176.9 608.6 1176.4 606.3 1175.9 604 1175.4 601.8 1174.9 599.5 1174.5 597.3 1174 595.1 1173.5 592.9 1173 590.8 1172.5 588.6 1172 586.5 1171.6 584.4 1171.1 582.4 1170.6 580.3 1170.1 578.3 1169.6 576.2 1169.2 574.2 1168.7 572.3 1168.2 570.3 1167.7 568.4 1167.2 566.4 1166.8 564.5 1166.3 562.6 1165.8 560.7 1165.3 558.9 1164.9 557 1164.4 555.2 1163.9 553.4 1163.5 551.6 1163 549.8 1162.5 548 1162.1 546.3 1161.6 544.5 1161.1 542.8 1160.7 541.1 1160.2 539.3 1159.8 537.7 1159.3 536 1158.9 534.3 1158.4 532.7 1158 531 1157.5 529.4 1157.1 527.8 1156.6 526.2 1156.2 524.6 1155.7 523 1155.3 521.4 1154.9 519.8 1154.4 518.3 1154 516.8 1153.6 515.2 1153.1 513.7 1152.7 512.2 1152.3 510.7 1151.9 509.2 1151.4 507.7 1151 506.3 1150.6 504.8 1150.2 503.4 1149.8 501.9 1149.4 500.5 1148.9 499.1 1148.5 497.7 1148.1 496.3 1147.7 494.9 1147.3 493.5 1146.9 492.1 1146.5 490.7 1146.1 489.4 1145.7 488 1145.3 486.7 1144.9 485.4 1144.5 484 1144.2 482.7 1143.8 481.4 1143.4 480.1 1143 478.8 1142.6 477.5 1142.2 476.2 1141.9 475 1141.5 473.7 1141.1 472.4 1140.7 471.2 1140.4 469.9 1140 468.7 1139.6 467.5 1139.3 466.2 1138.9 465 1138.6 463.8 1138.2 462.6 1137.8 461.4 1137.5 460.2 1137.1 459 1136.8 457.9 1136.4 456.7 1136.1 455.5 1135.7 454.4 1135.4 453.2 1135.1 452.1 1134.7 450.9 1134.4 449.8 1134 448.7 1133.7 447.5 1133.4 446.4 1133.1 445.3 1132.7 444.2 1132.4 443.1 1132.1 442 1131.7 440.9 1131.4 439.8 1131.1 438.7 1130.8 437.7 1130.5 436.6 1130.1 435.5 1129.8 434.5 1129.5 433.4 1129.2 432.4 1128.9 431.3 1128.5 430.3 1128.2 429.3 1127.9 428.2 1127.6 427.2 1127.3 426.2 1127 425.2 1126.7 424.2 1126.3 423.1 1126 422.1 1125.7 421.1 1125.4 420.2 1125.1 419.2 1124.8 418.2 1124.5 417.2 1124.2 416.2 1123.9 415.3 1123.6 414.3 1123.3 413.3 1123 412.4 1122.7 411.4 1122.4 410.5 1122.1 409.5 1121.8 408.6 1121.5 407.6 1121.2 406.7 1120.9 405.8 1120.6 404.8 1120.3 403.9 1120 403 1119.7 402.1 1119.4 401.2 1119.1 400.3 1118.8 399.4 1118.6 398.5 1118.3 397.6 1118 396.7 1117.7 395.8 1117.4 394.9 1117.1 394 1116.8 393.1 1116.5 392.3 1116.3 391.4 1116 390.5 1115.7 389.7 1115.4 388.8 1115.1 388 1114.8 387.1 1114.6 386.2 1114.3 385.4 1114 384.6 1113.7 383.7 1113.4 382.9 1113.2 382 1112.9 381.2 1112.6 380.4 1112.3 379.6 1112.1 378.7 1111.8 377.9 1111.5 377.1 1111.2 376.3 1111 375.5 1110.7 374.7 1110.4 373.9 1110.2 373.1 1109.9 372.3 1109.6 371.5 1109.4 370.7 1109.1 369.9 1108.8 369.1 1108.6 368.3 1108.3 367.5 1108 366.7 1107.8 366 1107.5 365.2 1107.2 364.4 1107 363.7 1106.7 362.9 1106.5 362.1 1106.2 361.4 1105.9 360.6 1105.7 359.9 1105.4 359.1 1105.2 358.3 1104.9 357.6 1104.6 356.9 1104.4 356.1 1104.1 355.4 1103.9 354.6 1103.6 353.9 1103.4 353.2 1103.1 352.4 1102.9 351.7 1102.6 351 1102.4 350.3 1102.1 349.5 1101.9 348.8 1101.6 348.1 1101.4 347.4 1101.1 346.7 1100.9 346 1100.6 345.3 1100.4 344.6 1100.1 343.9 1099.9 343.2 1099.6 342.5 1099.4 341.8 1099.1 341.1 1098.9 340.4 1098.7 339.7 1098.4 339 1098.2 338.3 1097.9 337.6 1097.7 337 1097.4 336.3 1097.2 335.6 1097 334.9 1096.7 334.3 1096.5 333.6 1096.2 332.9 1096 332.2 1095.8 331.6 1095.5 330.9 1095.3 330.3 1095.1 329.6 1094.8 328.9 1094.6 328.3 1094.4 327.6 1094.1 327 1093.9 326.3 1093.7 325.7 1093.4 325 1093.2 324.4 1093 323.8 1092.7 323.1 1092.5 322.5 1092.3 321.9 1092.1 321.2 1091.8 320.6 1091.6 320 1091.4 319.3 1091.1 318.7 1090.9 318.1 1090.7 317.5 1090.5 316.8 1090.2 316.2 1090 315.6 1089.8 315 1089.6 314.4 1089.3 313.8 1089.1 313.1 1088.9 312.5 1088.7 311.9 1088.4 311.3 1088.2 310.7 1088 310.1 1087.8 309.5 1087.6 308.9 1087.3 308.3 1087.1 307.7 1086.9 307.1 1086.7 306.5 1086.5 305.9 1086.2 305.3 1086 304.8 1085.8 304.2 1085.6 303.6 1085.4 303 1085.1 302.4 1084.9 301.8 1084.7 301.3 1084.5 300.7 1084.3 300.1 1084.1 299.5 1083.8 299 1083.6 298.4 1083.4 297.8 1083.2 297.3 1083 296.7 1082.8 296.1 1082.6 295.6 1082.3 295 1082.1 294.4 1081.9 293.9 1081.7 293.3 1081.5 292.8 1081.3 292.2 1081.1 291.6 1080.9 291.1 1080.6 290.5 1080.4 290 1080.2 289.4 1080 288.9 1079.8 288.3 1079.6 287.8 1079.4 287.3 1079.2 286.7 1079 286.2 1078.7 285.6 1078.5 285.1 1078.3 284.6 1078.1 284 1077.9 283.5 1077.7 283 1077.5 282.4 1077.3 281.9 1077.1 281.4 1076.9 280.8 1076.7 280.3 1076.4 279.8 1076.2 279.3 1076 278.7 1075.8 278.2 1075.6 277.7 1075.4 277.2 1075.2 276.7 1075 276.1 1074.8 275.6 1074.6 275.1 1074.4 274.6 1074.2 274.1 1074 273.6 1073.8 273.1 1073.6 272.6 1073.4 272.1 1073.1 271.6 1072.9 271 1072.7 270.5 1072.5 270 1072.3 269.5 1072.1 269 1071.9 268.5 1071.7 268 1071.5 267.5 1071.3 267 1071.1 266.6 1070.9 266.1 1070.7 265.6 1070.5 265.1 1070.3 264.6 1070.1 264.1 1069.9 263.6 1069.7 263.1 1069.5 262.6 1069.3 262.2 1069.1 261.7 1068.9 261.2 1068.7 260.7 1068.5 260.2 1068.3 259.7 1068.1 259.3 1067.9 258.8 1067.7 258.3 1067.5 257.8 1067.3 257.4 1067.1 256.9 1066.9 256.4 1066.7 255.9 1066.5 255.5 1066.3 255 1066.1 254.5 1065.9 254.1 1065.7 253.6 1065.5 253.1 1065.3 252.7 1065.1 252.2 1064.9 251.7 1064.7 251.3 1064.5 250.8 1064.3 250.4 1064.1 249.9 1063.9 249.4 1063.7 249 1063.5 248.5 1063.3 248.1 1063.1 247.6 1062.9 247.2 1062.7 246.7 1062.5 246.3 1062.3 245.8 1062.1 245.4 1061.9 244.9 1061.7 244.5 1061.5 244 1061.3 243.6 1061.1 243.1 1060.9 242.7 1060.7 242.2 1060.5 241.8 1060.3 241.4 1060.1 240.9 1059.9 240.5 1059.7 240 1059.5 239.6 1059.3 239.2 1059.1 238.7 1058.9 238.3 1058.7 237.9 1058.5 237.4 1058.3 237 1058.1 236.6 1057.9 236.1 1057.7 235.7 1057.5 235.3 1057.3 234.8 1057.1 234.4 1056.9 234 1056.7 233.6 1056.5 233.1 1056.3 232.7 1056.1 232.3 1055.9 231.9 1055.7 231.4 1055.5 231 1055.3 230.6 1055.1 230.2 1054.9 229.8 1054.7 229.4 1054.5 228.9 1054.4 228.5 1054.2 228.1 1054 227.7 1053.8 227.3 1053.6 226.9 1053.4 226.4 1053.2 226 1053 225.6 1052.8 225.2 1052.6 224.8 1052.4 224.4 1052.2 224 1052 223.6 1051.8 223.2 1051.6 222.8 1051.4 222.4 1051.2 222 1051 221.6 1050.8 221.2 1050.6 220.8 1050.4 220.4 1050.2 219.9 1050 219.5 1049.8 219.2 1049.6 218.8 1049.4 218.4 1049.2 218 1049 217.6 1048.8 217.2 1048.6 216.8 1048.4 216.4 1048.2 216 1048 215.6 1047.8 215.2 1047.6 214.8 1047.4 214.4 1047.2 214 1047 213.6 1046.8 213.2 1046.6 212.9 1046.4 212.5 1046.2 212.1 1046 211.7 1045.8 211.3 1045.6 210.9 1045.4 210.5 1045.2 210.2 1045 209.8 1044.8 209.4 1044.6 209 1044.4 208.6 1044.2 208.3 1044 207.9 1043.8 207.5 1043.6 207.1 1043.4 206.7 1043.2 206.4 1043 206 1042.8 205.6 1042.6 205.2 1042.4 204.9 1042.2 204.5 1042 204.1 1041.8 203.8 1041.6 203.4 1041.4 203 1041.2 202.6 1041 202.3 1040.8 201.9 1040.6 201.5 1040.4 201.2 1040.2 200.8 1040 200.4 1039.8 200.1 1039.6 199.7 1039.4 199.3 1039.2 199 1039 198.6 1038.8 198.2 1038.6 197.9 1038.4 197.5 1038.2 197.2 1038 196.8 1037.8 196.4 1037.6 196.1 1037.4 195.7 1037.2 195.4 1037 195 1036.8 194.6 1036.6 194.3 1036.4 193.9 1036.2 193.6 1036 193.2 1035.7 192.9 1035.5 192.5 1035.3 192.2 1035.1 191.8 1034.9 191.5 1034.7 191.1 1034.5 190.8 1034.3 190.4 1034.1 190.1 1033.9 189.7 1033.7 189.4 1033.5 189 1033.3 188.7 1033.1 188.3 1032.8 188 1032.6 187.6 1032.4 187.3 1032.2 186.9 1032 186.6 1031.8 186.2 1031.6 185.9 1031.4 185.6 1031.2 185.2 1031 184.9 1030.7 184.5 1030.5 184.2 1030.3 183.9 1030.1 183.5 1029.9 183.2 1029.7 182.8 1029.5 182.5 1029.3 182.2 1029 181.8 1028.8 181.5 1028.6 181.2 1028.4 180.8 1028.2 180.5 1028 180.1 1027.7 179.8 1027.5 179.5 1027.3 179.1 1027.1 178.8 1026.9 178.5 1026.7 178.1 1026.4 177.8 1026.2 177.5 1026 177.2 1025.8 176.8 1025.6 176.5 1025.3 176.2 1025.1 175.8 1024.9 175.5 1024.7 175.2 1024.4 174.9 1024.2 174.5 1024 174.2 1023.8 173.9 1023.5 173.6 1023.3 173.2 1023.1 172.9 1022.9 172.6 1022.6 172.3 1022.4 171.9 1022.2 171.6 1022 171.3 1021.7 171 1021.5 170.7 1021.3 170.3 1021 170 1020.8 169.7 1020.6 169.4 1020.3 169.1 1020.1 168.7 1019.9 168.4 1019.7 168.1 1019.4 167.8 1019.2 167.5 1019 167.2 1018.7 166.9 1018.5 166.5 1018.3 166.2 1018 165.9 1017.8 165.6 1017.5 165.3 1017.3 165 1017.1 164.7 1016.8 164.4 1016.6 164 1016.4 163.7 1016.1 163.4 1015.9 163.1 1015.6 162.8 1015.4 162.5 1015.2 162.2 1014.9 161.9 1014.7 161.6 1014.4 161.3 1014.2 161 1013.9 160.6 1013.7 160.3 1013.5 160 1013.2 159.7 1013 159.4 1012.7 159.1 1012.5 158.8 1012.2 158.5 1012 158.2 1011.7 157.9 1011.5 157.6 1011.3 157.3 1011 157 1010.8 156.7 1010.5 156.4 1010.3 156.1 1010 155.8 1009.8 155.5 1009.5 155.2 1009.3 154.9 1009 154.6 1008.8 154.3 1008.5 154 1008.2 153.7 1008 153.4 1007.7 153.1 1007.5 152.8 1007.2 152.5 1007 152.2 1006.7 151.9 1006.5 151.7 1006.2 151.4 1006 151.1 1005.7 150.8 1005.4 150.5 1005.2 150.2 1004.9 149.9 1004.7 149.6 1004.4 149.3 1004.1 149 1003.9 148.7 1003.6 148.4 1003.4 148.2 1003.1 147.9 1002.8 147.6 1002.6 147.3 1002.3 147 1002.1 146.7 1001.8 146.4 1001.5 146.1 1001.3 145.9 1001 145.6 1000.7 145.3 1000.5 145 1000.2 144.7 999.9 144.4 999.7 144.1 999.4 143.9 999.1 143.6 998.9 143.3 998.6 143 998.3 142.7 998.1 142.5 997.8 142.2 997.5 141.9 997.3 141.6 997 141.3 996.7 141 996.5 140.8 996.2 140.5 995.9 140.2 995.6 139.9 995.4 139.7 995.1 139.4 994.8 139.1 994.6 138.8 994.3 138.5 994 138.3 993.7 138 993.5 137.7 993.2 137.4 992.9 137.2 992.6 136.9 992.4 136.6 992.1 136.3 991.8 136.1 991.5 135.8 991.2 135.5 991 135.2 990.7 135 990.4 134.7 990.1 134.4 989.8 134.2 989.5 133.9 989.3 133.6 989 133.3 988.7 133.1 988.4 132.8 988.1 132.5 987.8 132.3 987.5 132 987.2 131.7 986.9 131.5 986.6 131.2 986.3 130.9 986 130.7 985.7 130.4 985.4 130.1 985.1 129.9 984.8 129.6 984.5 129.3 984.2 129.1 983.9 128.8 983.6 128.5 983.3 128.3 983 128 982.7 127.7 982.4 127.5 982.1 127.2 981.7 126.9 981.4 126.7 981.1 126.4 980.8 126.2 980.5 125.9 980.2 125.6 979.8 125.4 979.5 125.1 979.2 124.9 978.9 124.6 978.6 124.3 978.2 124.1 977.9 123.8 977.6 123.6 977.2 123.3 976.9 123 976.6 122.8 976.3 122.5 975.9 122.3 975.6 122 975.2 121.8 974.9 121.5 974.6 121.2 974.2 121 973.9 120.7 973.5 120.5 973.2 120.2 972.9 120 972.5 119.7 972.2 119.5 971.8 119.2 971.5 119 971.1 118.7 970.7 118.4 970.4 118.2 970 117.9 969.7 117.7 969.3 117.4 969 117.2 968.6 116.9 968.2 116.7 967.9 116.4 967.5 116.2 967.1 115.9 966.8 115.7 966.4 115.4 966 115.2 965.6 114.9 965.3 114.7 964.9 114.4 964.5 114.2 964.1 113.9 963.7 113.7 963.4 113.4 963 113.2 962.6 113 962.2 112.7 961.8 112.5 961.4 112.2 961 112 960.6 111.7 960.2 111.5 959.8 111.2 959.4 111 959 110.7 958.6 110.5 958.2 110.3 957.8 110 957.4 109.8 957 109.5 956.6 109.3 956.2 109 955.8 108.8 955.4 108.6 955 108.3 954.6 108.1 954.2 107.8 953.7 107.6 953.3 107.4 952.9 107.1 952.5 106.9 952 106.6 951.6 106.4 951.2 106.2 950.7 105.9 950.3 105.7 949.8 105.4 949.4 105.2 948.9 105 948.4 104.7 948 104.5 947.5 104.3 947 104 946.5 103.8 946 103.5 945.5 103.3 945 103.1 944.5 102.8 944 102.6 943.4 102.4 942.9 102.1 942.3 101.9 941.7 101.7 941.2 101.4 940.6 101.2 939.9 101 939.3 100.7 938.7 100.5 938 100.3 937.3 100 936.6 99.8 935.9 99.6 935.2 99.3 934.4 99.1 933.6 98.9 932.8 98.6 932 98.4 931.1 98.2 930.3 97.9 929.4 97.7 928.4 97.5 927.5 97.3 926.5 97 925.5 96.8 924.5 96.6 923.5 96.3 922.4 96.1 921.3 95.9 920.2 95.7 919.1 95.4 917.9 95.2 916.7 95 915.5 94.7 914.3 94.5 913.1 94.3 911.9 94.1 910.6 93.8 909.2 93.6 907.8 93.4 906.3 93.2 904.8 92.9 903.2 92.7 901.5 92.5 899.8 92.3 898 92 896.2 91.8 894.4 91.6 892.5 91.4 890.7 91.1 888.9 90.9 887.1 90.7 885.1 90.5 883 90.3 880.6 90 878.1 89.8 875.2 89.6 872.1 89.4 868.8 89.1 866 88.9 856.7 88.7" stroke="#FF0000" stroke-width="3.0" fill="none" stroke-linejoin="round" marker-start="url(#k_m_red)" marker-mid="url(#k_m_red)" marker-end="url(#k_m_red)"/>
<text x="499.2" y="1700.6" font-size="60" text-anchor="middle" fill="#262626">5</text><text x="779.2" y="1700.6" font-size="60" text-anchor="middle" fill="#262626">6</text><text x="1059.2" y="1700.6" font-size="60" text-anchor="middle" fill="#262626">7</text><text x="1339.2" y="1700.6" font-size="60" text-anchor="middle" fill="#262626">8</text><text x="1619.2" y="1700.6" font-size="60" text-anchor="middle" fill="#262626">9</text><text y="1700.6" font-size="60" fill="#262626"><tspan x="1870.2">1</tspan><tspan x="1898.7">0</tspan></text><text y="1700.6" font-size="60" fill="#262626"><tspan x="2149.6">1</tspan><tspan x="2182.5">1</tspan></text>
<text y="119.8" font-size="60.0" fill="#262626"><tspan x="123.4">1</tspan><tspan x="153.4">0</tspan></text><text y="91.9" font-size="49.0" fill="#262626"><tspan x="189.1">0</tspan></text><text y="625.3" font-size="60.0" fill="#262626"><tspan x="106.6">1</tspan><tspan x="135.4">0</tspan></text><text y="599.6" font-size="49.0" fill="#262626"><tspan x="185.9">1</tspan></text><text x="170.8" y="602.8" font-size="49.0" fill="#262626">-</text><text y="1137.8" font-size="60.0" fill="#262626"><tspan x="106.6">1</tspan><tspan x="135.4">0</tspan></text><text y="1111.9" font-size="49.0" fill="#262626"><tspan x="185.3">2</tspan></text><text x="170.8" y="1116" font-size="49.0" fill="#262626">-</text><text y="1645.6" font-size="60.0" fill="#262626"><tspan x="106.6">1</tspan><tspan x="135.6">0</tspan></text><text y="1619.5" font-size="49.0" fill="#262626"><tspan x="185">3</tspan></text><text x="170.8" y="1623.3" font-size="49.0" fill="#262626">-</text>
<text x="1048.2" y="1782.3" font-size="65.7" fill="#262626">PAPR0(dB)</text>
<text transform="translate(68.5,1121.4) rotate(-90)" font-size="65.7" fill="#262626">Pr(PAPR&gt;PAPR0)</text>
<text transform="translate(408.3,56.9) scale(1,1.025)" font-size="63.47" fill="#000">Comparision of MDPSO-PTS with diffenert Gn and PTS</text>
<rect x="296.6" y="926.8" width="912.4" height="617.5" fill="#fff"/>
<path d="M366,926.8V1544.3M638.3,926.8V1544.3M910.6,926.8V1544.3M1182.9,926.8V1544.3M296.6,1539.4H1209M296.6,1280.3H1209M296.6,1128.7H1209M296.6,1021.1H1209M296.6,937.7H1209" stroke="#e1e1e1" stroke-width="2.6" fill="none"/>
<path d="M296.6,1471.2H1209M296.6,1413.6H1209M296.6,1363.7H1209M296.6,1319.7H1209M296.6,1244.6H1209M296.6,1212.1H1209M296.6,1182.2H1209M296.6,1154.5H1209M296.6,1104.6H1209M296.6,1081.9H1209M296.6,1060.5H1209M296.6,1040.3H1209M296.6,1002.9H1209M296.6,985.5H1209M296.6,968.9H1209M296.6,953H1209" stroke="#c4c4c4" stroke-width="3.4" fill="none" stroke-dasharray="3.4 14.25" stroke-dashoffset="-9.3"/>
<path d="M296.6,926.8H1209 V1544.3 H296.6 ZM366,1544.3v-9.1M366,926.8v9.1M638.3,1544.3v-9.1M638.3,926.8v9.1M910.6,1544.3v-9.1M910.6,926.8v9.1M1182.9,1544.3v-9.1M1182.9,926.8v9.1M296.6,1539.4h9.1M1209,1539.4h-9.1M296.6,1280.3h9.1M1209,1280.3h-9.1M296.6,1128.7h9.1M1209,1128.7h-9.1M296.6,1021.1h9.1M1209,1021.1h-9.1M296.6,937.7h9.1M1209,937.7h-9.1M296.6,1471.2h4.6M1209,1471.2h-4.6M296.6,1413.6h4.6M1209,1413.6h-4.6M296.6,1363.7h4.6M1209,1363.7h-4.6M296.6,1319.7h4.6M1209,1319.7h-4.6M296.6,1244.6h4.6M1209,1244.6h-4.6M296.6,1212.1h4.6M1209,1212.1h-4.6M296.6,1182.2h4.6M1209,1182.2h-4.6M296.6,1154.5h4.6M1209,1154.5h-4.6M296.6,1104.6h4.6M1209,1104.6h-4.6M296.6,1081.9h4.6M1209,1081.9h-4.6M296.6,1060.5h4.6M1209,1060.5h-4.6M296.6,1040.3h4.6M1209,1040.3h-4.6M296.6,1002.9h4.6M1209,1002.9h-4.6M296.6,985.5h4.6M1209,985.5h-4.6M296.6,968.9h4.6M1209,968.9h-4.6M296.6,953h4.6M1209,953h-4.6" stroke="#262626" stroke-width="2.8" fill="none"/>
<path d="M2160.7,1539.4 2136.7,1280.3 2111.6,1128.7 2091.6,1021.1 2080.9,937.7 2049.6,869.6 1964.8,811.9 1930.4,762 1902.2,718 1821.8,678.6 1821.8,643 1819.9,610.4" stroke="#000000" stroke-width="3.0" fill="none" clip-path="url(#clipIn)"/>

<path d="M1025,1539.4 978.6,1280.3 938.3,1128.7 927,1021.1 920.7,937.7 919.4,869.6 919.4,811.9 912.7,762 911.2,718 907.9,678.6 907.7,643 906.7,610.4" stroke="#FF9900" stroke-width="3.0" fill="none" clip-path="url(#clipIn)"/>
<use xlink:href="#m_orange" x="1025" y="1539.4"/><use xlink:href="#m_orange" x="978.6" y="1280.3"/><use xlink:href="#m_orange" x="938.3" y="1128.7"/><use xlink:href="#m_orange" x="927" y="1021.1"/><use xlink:href="#m_orange" x="920.7" y="937.7"/>
<path d="M933.5,1539.4 850.4,1280.3 840.9,1128.7 820.1,1021.1 800.4,937.7 792.9,869.6 779.7,811.9 764.9,762 761.6,718 755,678.6 728.3,643 722.7,610.4" stroke="#00A3CE" stroke-width="3.0" fill="none" clip-path="url(#clipIn)"/>
<use xlink:href="#m_cyan" x="933.5" y="1539.4"/><use xlink:href="#m_cyan" x="850.4" y="1280.3"/><use xlink:href="#m_cyan" x="840.9" y="1128.7"/><use xlink:href="#m_cyan" x="820.1" y="1021.1"/><use xlink:href="#m_cyan" x="800.4" y="937.7"/>
<path d="M800.3,1539.4 737.7,1280.3 701.5,1128.7 680.1,1021.1 678,937.7 679.5,869.6 669.6,811.9 663,762 659.7,718 649.8,678.6 623.2,643 616.1,610.4" stroke="#C85A28" stroke-width="3.0" fill="none" clip-path="url(#clipIn)"/>
<use xlink:href="#m_brown" x="800.3" y="1539.4"/><use xlink:href="#m_brown" x="737.7" y="1280.3"/><use xlink:href="#m_brown" x="701.5" y="1128.7"/><use xlink:href="#m_brown" x="680.1" y="1021.1"/><use xlink:href="#m_brown" x="678" y="937.7"/>
<path d="M744.8,1539.4 699.7,1280.3 678,1128.7 661.5,1021.1 660.4,937.7 654.8,869.6 640.1,811.9 636.7,762 630.1,718 623.7,678.6 640.1,643 629.3,610.4" stroke="#1A1A80" stroke-width="3.0" fill="none" clip-path="url(#clipIn)"/>
<use xlink:href="#m_navy" x="744.8" y="1539.4"/><use xlink:href="#m_navy" x="699.7" y="1280.3"/><use xlink:href="#m_navy" x="678" y="1128.7"/><use xlink:href="#m_navy" x="661.5" y="1021.1"/><use xlink:href="#m_navy" x="660.4" y="937.7"/>
<path d="M646.8,1539.4 609,1280.3 605.5,1128.7 589.9,1021.1 585.8,937.7 587.3,869.6 585.8,811.9 582.5,762 577.6,718 574.3,678.6 568,643 563.1,610.4" stroke="#00CC33" stroke-width="3.0" fill="none" clip-path="url(#clipIn)"/>
<use xlink:href="#m_green" x="646.8" y="1539.4"/><use xlink:href="#m_green" x="609" y="1280.3"/><use xlink:href="#m_green" x="605.5" y="1128.7"/><use xlink:href="#m_green" x="589.9" y="1021.1"/><use xlink:href="#m_green" x="585.8" y="937.7"/>
<path d="M622.3,1539.4 589.3,1280.3 579.1,1128.7 559.4,1021.1 556.3,937.7 552.9,869.6 546.3,811.9 541.4,762 531.5,718 528.4,678.6 564.2,643 557.8,610.4" stroke="#B066DA" stroke-width="3.0" fill="none" clip-path="url(#clipIn)"/>
<use xlink:href="#m_purple" x="622.3" y="1539.4"/><use xlink:href="#m_purple" x="589.3" y="1280.3"/><use xlink:href="#m_purple" x="579.1" y="1128.7"/><use xlink:href="#m_purple" x="559.4" y="1021.1"/><use xlink:href="#m_purple" x="556.3" y="937.7"/>
<path d="M568.7,1539.4 553.8,1280.3 543.3,1128.7 532.9,1021.1 523.5,937.7 507,869.6 505.1,811.9 503.5,762 480.6,718 477.8,678.6 501.5,643 493.8,610.4" stroke="#FF0000" stroke-width="3.0" fill="none" clip-path="url(#clipIn)"/>
<use xlink:href="#m_red" x="568.7" y="1539.4"/><use xlink:href="#m_red" x="553.8" y="1280.3"/><use xlink:href="#m_red" x="543.3" y="1128.7"/><use xlink:href="#m_red" x="532.9" y="1021.1"/><use xlink:href="#m_red" x="523.5" y="937.7"/>
<text x="363.5" y="1610.2" font-size="50.5" text-anchor="middle" fill="#262626">7.5</text><text x="635.8" y="1610.2" font-size="50.5" text-anchor="middle" fill="#262626">8</text><text x="908.1" y="1610.2" font-size="50.5" text-anchor="middle" fill="#262626">8.5</text><text x="1180.4" y="1610.2" font-size="50.5" text-anchor="middle" fill="#262626">9</text><text x="278.7" y="1558.9" font-size="50.5" text-anchor="end" fill="#262626">1</text><text x="278.7" y="1299.8" font-size="50.5" text-anchor="end" fill="#262626">2</text><text x="278.7" y="1148.2" font-size="50.5" text-anchor="end" fill="#262626">3</text><text x="278.7" y="1040.6" font-size="50.5" text-anchor="end" fill="#262626">4</text><text x="278.7" y="957.2" font-size="50.5" text-anchor="end" fill="#262626">5</text><text x="299.4" y="919.0" font-size="53.6" fill="#6e6e6e">&#215;</text><text x="333.7" y="913.7" font-size="49.5" fill="#262626">10</text><text x="389.2" y="891.2" font-size="41" fill="#262626"><tspan dy="3">-</tspan><tspan dy="-3">3</tspan></text>
<rect x="1756.3" y="97.6" width="418.2" height="594.4" fill="#fff" stroke="#262626" stroke-width="2.8"/>
<path d="M1772.8,141.1H1950.5" stroke="#000000" stroke-width="3.0"/>
<use xlink:href="#m_black" x="1861.7" y="141.1"/>
<text x="1961.5" y="162.8" font-size="53.0" fill="#000">Original</text>
<path d="M1772.8,213.6H1950.5" stroke="#FF9900" stroke-width="3.0"/>
<use xlink:href="#m_orange" x="1861.7" y="213.6"/>
<text x="1961.3" y="235.3" font-size="53.0" fill="#000">Gn = 2</text>
<path d="M1772.8,286.2H1950.5" stroke="#00A3CE" stroke-width="3.0"/>
<use xlink:href="#m_cyan" x="1861.7" y="286.2"/>
<text x="1961.3" y="307.9" font-size="53.0" fill="#000">Gn = 4</text>
<path d="M1772.8,358.8H1950.5" stroke="#C85A28" stroke-width="3.0"/>
<use xlink:href="#m_brown" x="1861.7" y="358.8"/>
<text x="1961.3" y="380.4" font-size="53.0" fill="#000">Gn = 8</text>
<path d="M1772.8,431.3H1950.5" stroke="#1A1A80" stroke-width="3.0"/>
<use xlink:href="#m_navy" x="1861.7" y="431.3"/>
<text x="1961.3" y="453" font-size="53.0" fill="#000">Gn = 10</text>
<path d="M1772.8,503.9H1950.5" stroke="#00CC33" stroke-width="3.0"/>
<use xlink:href="#m_green" x="1861.7" y="503.9"/>
<text x="1961.3" y="525.6" font-size="53.0" fill="#000">Gn = 15</text>
<path d="M1772.8,576.4H1950.5" stroke="#B066DA" stroke-width="3.0"/>
<use xlink:href="#m_purple" x="1861.7" y="576.4"/>
<text x="1961.3" y="598.1" font-size="53.0" fill="#000">Gn = 20</text>
<path d="M1772.8,648.9H1950.5" stroke="#FF0000" stroke-width="3.0"/>
<use xlink:href="#m_red" x="1861.7" y="648.9"/>
<text x="1959.7" y="670.6" font-size="53.0" fill="#000">PTS</text>
</svg></body></html>
